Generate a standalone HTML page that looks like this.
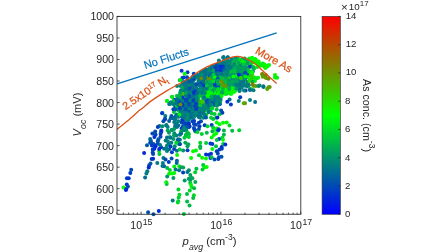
<!DOCTYPE html>
<html><head><meta charset="utf-8"><title>Voc vs p_avg</title><style>html,body{margin:0;padding:0;background:#fff;overflow:hidden}svg{display:block}</style></head><body>
<svg width="448" height="252" viewBox="0 0 448 252" font-family="Liberation Sans, Arial, sans-serif" font-size="10.6" fill="#262626">
<defs><linearGradient id="cb" x1="0" y1="1" x2="0" y2="0"><stop offset="0" stop-color="#0000ff"/><stop offset="0.5" stop-color="#00ff00"/><stop offset="1" stop-color="#ff0000"/></linearGradient>
</defs>
<rect width="448" height="252" fill="#ffffff"/>
<g>
<circle cx="214.2" cy="97.4" r="2.0" fill="#00738c"/>
<circle cx="215.0" cy="98.9" r="2.0" fill="#006e91"/>
<circle cx="213.4" cy="86.9" r="2.0" fill="#00c13e"/>
<circle cx="226.7" cy="93.1" r="2.0" fill="#04fb00"/>
<circle cx="183.1" cy="89.4" r="2.0" fill="#007d82"/>
<circle cx="243.6" cy="69.6" r="2.0" fill="#008679"/>
<circle cx="234.6" cy="63.7" r="2.0" fill="#00c13e"/>
<circle cx="203.6" cy="71.1" r="2.0" fill="#007887"/>
<circle cx="203.4" cy="117.7" r="2.0" fill="#008976"/>
<circle cx="239.7" cy="60.9" r="2.0" fill="#00b748"/>
<circle cx="242.1" cy="60.1" r="2.0" fill="#007887"/>
<circle cx="191.4" cy="79.8" r="2.0" fill="#00817e"/>
<circle cx="231.6" cy="61.6" r="2.0" fill="#008c73"/>
<circle cx="217.4" cy="64.6" r="2.0" fill="#00728d"/>
<circle cx="218.7" cy="75.6" r="2.0" fill="#00827d"/>
<circle cx="193.1" cy="91.8" r="2.0" fill="#003fc0"/>
<circle cx="223.8" cy="69.7" r="2.0" fill="#006f90"/>
<circle cx="184.4" cy="82.6" r="2.0" fill="#007689"/>
<circle cx="236.3" cy="76.3" r="2.0" fill="#00ad52"/>
<circle cx="213.7" cy="83.4" r="2.0" fill="#00a857"/>
<circle cx="188.5" cy="104.7" r="2.0" fill="#003ac5"/>
<circle cx="242.7" cy="66.1" r="2.0" fill="#008877"/>
<circle cx="237.5" cy="79.6" r="2.0" fill="#009c63"/>
<circle cx="243.3" cy="66.9" r="2.0" fill="#00c936"/>
<circle cx="213.7" cy="97.7" r="2.0" fill="#00718e"/>
<circle cx="199.8" cy="107.8" r="2.0" fill="#00817e"/>
<circle cx="194.8" cy="79.0" r="2.0" fill="#00857a"/>
<circle cx="242.6" cy="62.0" r="2.0" fill="#007e81"/>
<circle cx="195.3" cy="131.4" r="2.0" fill="#00ba45"/>
<circle cx="195.1" cy="106.9" r="2.0" fill="#008080"/>
<circle cx="239.8" cy="84.4" r="2.0" fill="#008a75"/>
<circle cx="198.9" cy="109.8" r="2.0" fill="#007f80"/>
<circle cx="215.1" cy="79.9" r="2.0" fill="#00a25d"/>
<circle cx="192.6" cy="77.6" r="2.0" fill="#008d72"/>
<circle cx="193.1" cy="104.4" r="2.0" fill="#0034cb"/>
<circle cx="222.6" cy="83.0" r="2.0" fill="#00bd42"/>
<circle cx="212.2" cy="103.1" r="2.0" fill="#0041be"/>
<circle cx="202.1" cy="76.5" r="2.0" fill="#007887"/>
<circle cx="181.2" cy="114.6" r="2.0" fill="#00718e"/>
<circle cx="216.6" cy="102.3" r="2.0" fill="#00758a"/>
<circle cx="233.8" cy="84.9" r="2.0" fill="#00827d"/>
<circle cx="235.2" cy="90.7" r="2.0" fill="#05fa00"/>
<circle cx="186.1" cy="101.6" r="2.0" fill="#0043bc"/>
<circle cx="225.4" cy="84.6" r="2.0" fill="#00ae51"/>
<circle cx="194.0" cy="92.0" r="2.0" fill="#002dd2"/>
<circle cx="214.4" cy="102.3" r="2.0" fill="#008d72"/>
<circle cx="239.6" cy="64.4" r="2.0" fill="#00748b"/>
<circle cx="230.3" cy="93.8" r="2.0" fill="#00f708"/>
<circle cx="211.0" cy="70.2" r="2.0" fill="#003dc2"/>
<circle cx="187.6" cy="81.3" r="2.0" fill="#007f80"/>
<circle cx="190.5" cy="103.3" r="2.0" fill="#0028d7"/>
<circle cx="189.5" cy="97.3" r="2.0" fill="#008976"/>
<circle cx="174.9" cy="105.6" r="2.0" fill="#008778"/>
<circle cx="203.3" cy="113.6" r="2.0" fill="#006e91"/>
<circle cx="219.6" cy="63.4" r="2.0" fill="#007a85"/>
<circle cx="225.4" cy="62.3" r="2.0" fill="#00827d"/>
<circle cx="211.5" cy="70.4" r="2.0" fill="#003ec1"/>
<circle cx="232.5" cy="76.7" r="2.0" fill="#009d62"/>
<circle cx="225.3" cy="84.8" r="2.0" fill="#00a758"/>
<circle cx="191.8" cy="104.1" r="2.0" fill="#004cb3"/>
<circle cx="225.1" cy="83.0" r="2.0" fill="#798600"/>
<circle cx="203.2" cy="92.9" r="2.0" fill="#007d82"/>
<circle cx="189.4" cy="82.9" r="2.0" fill="#002cd3"/>
<circle cx="231.5" cy="93.7" r="2.0" fill="#00fb04"/>
<circle cx="207.1" cy="95.1" r="2.0" fill="#00b847"/>
<circle cx="198.2" cy="99.2" r="2.0" fill="#00c53a"/>
<circle cx="205.6" cy="110.5" r="2.0" fill="#00d22d"/>
<circle cx="236.7" cy="61.1" r="2.0" fill="#00d42b"/>
<circle cx="206.5" cy="69.9" r="2.0" fill="#008e71"/>
<circle cx="220.0" cy="79.3" r="2.0" fill="#00d02f"/>
<circle cx="168.7" cy="143.9" r="2.0" fill="#006e91"/>
<circle cx="204.9" cy="84.8" r="2.0" fill="#004ab5"/>
<circle cx="215.7" cy="89.5" r="2.0" fill="#06f900"/>
<circle cx="228.7" cy="61.7" r="2.0" fill="#00857a"/>
<circle cx="189.4" cy="98.7" r="2.0" fill="#002bd4"/>
<circle cx="199.1" cy="95.4" r="2.0" fill="#00718e"/>
<circle cx="206.6" cy="94.4" r="2.0" fill="#00d52a"/>
<circle cx="194.9" cy="77.5" r="2.0" fill="#006f90"/>
<circle cx="220.0" cy="88.5" r="2.0" fill="#01fe00"/>
<circle cx="243.3" cy="68.8" r="2.0" fill="#00d42b"/>
<circle cx="195.1" cy="107.2" r="2.0" fill="#002cd3"/>
<circle cx="221.1" cy="92.3" r="2.0" fill="#00c738"/>
<circle cx="194.5" cy="76.3" r="2.0" fill="#00728d"/>
<circle cx="219.3" cy="84.4" r="2.0" fill="#00d926"/>
<circle cx="228.5" cy="83.6" r="2.0" fill="#5fa000"/>
<circle cx="216.4" cy="76.2" r="2.0" fill="#003ac5"/>
<circle cx="218.7" cy="98.9" r="2.0" fill="#008778"/>
<circle cx="185.6" cy="99.4" r="2.0" fill="#003dc2"/>
<circle cx="210.2" cy="69.6" r="2.0" fill="#00857a"/>
<circle cx="238.9" cy="78.9" r="2.0" fill="#00ae51"/>
<circle cx="174.3" cy="133.2" r="2.0" fill="#008c73"/>
<circle cx="242.9" cy="80.9" r="2.0" fill="#00817e"/>
<circle cx="209.4" cy="68.5" r="2.0" fill="#008e71"/>
<circle cx="225.3" cy="82.0" r="2.0" fill="#00ae51"/>
<circle cx="206.5" cy="71.9" r="2.0" fill="#0031ce"/>
<circle cx="203.9" cy="85.7" r="2.0" fill="#008976"/>
<circle cx="194.0" cy="84.2" r="2.0" fill="#00728d"/>
<circle cx="186.4" cy="128.3" r="2.0" fill="#007d82"/>
<circle cx="182.8" cy="112.4" r="2.0" fill="#007689"/>
<circle cx="199.2" cy="103.7" r="2.0" fill="#00c43b"/>
<circle cx="224.8" cy="61.3" r="2.0" fill="#007b84"/>
<circle cx="217.4" cy="88.3" r="2.0" fill="#00ba45"/>
<circle cx="188.7" cy="134.6" r="2.0" fill="#00cd32"/>
<circle cx="199.1" cy="78.7" r="2.0" fill="#008679"/>
<circle cx="185.1" cy="94.9" r="2.0" fill="#008c73"/>
<circle cx="232.8" cy="74.9" r="2.0" fill="#008976"/>
<circle cx="220.2" cy="70.8" r="2.0" fill="#0046b9"/>
<circle cx="227.2" cy="82.1" r="2.0" fill="#00a659"/>
<circle cx="181.5" cy="113.5" r="2.0" fill="#00807f"/>
<circle cx="191.9" cy="82.8" r="2.0" fill="#008e71"/>
<circle cx="204.7" cy="99.6" r="2.0" fill="#00d52a"/>
<circle cx="186.5" cy="81.5" r="2.0" fill="#0053ac"/>
<circle cx="191.2" cy="104.4" r="2.0" fill="#004db2"/>
<circle cx="155.2" cy="131.4" r="2.0" fill="#004bb4"/>
<circle cx="199.9" cy="117.4" r="2.0" fill="#00847b"/>
<circle cx="186.3" cy="108.0" r="2.0" fill="#0033cc"/>
<circle cx="228.1" cy="61.3" r="2.0" fill="#00758a"/>
<circle cx="215.3" cy="93.0" r="2.0" fill="#00c23d"/>
<circle cx="208.6" cy="74.5" r="2.0" fill="#00857a"/>
<circle cx="216.2" cy="104.6" r="2.0" fill="#007c83"/>
<circle cx="178.9" cy="116.8" r="2.0" fill="#008976"/>
<circle cx="192.8" cy="117.6" r="2.0" fill="#006f90"/>
<circle cx="187.5" cy="100.2" r="2.0" fill="#007689"/>
<circle cx="207.3" cy="78.2" r="2.0" fill="#659a00"/>
<circle cx="202.9" cy="111.0" r="2.0" fill="#003ec1"/>
<circle cx="202.1" cy="92.0" r="2.0" fill="#00728d"/>
<circle cx="181.6" cy="128.4" r="2.0" fill="#0031ce"/>
<circle cx="186.7" cy="118.8" r="2.0" fill="#0040bf"/>
<circle cx="221.9" cy="65.4" r="2.0" fill="#003ec1"/>
<circle cx="185.8" cy="103.6" r="2.0" fill="#007a85"/>
<circle cx="184.4" cy="111.5" r="2.0" fill="#0039c6"/>
<circle cx="195.5" cy="76.9" r="2.0" fill="#007a85"/>
<circle cx="161.3" cy="130.6" r="2.0" fill="#003bc4"/>
<circle cx="195.2" cy="107.7" r="2.0" fill="#008a75"/>
<circle cx="186.9" cy="83.2" r="2.0" fill="#00738c"/>
<circle cx="212.2" cy="92.2" r="2.0" fill="#00fb04"/>
<circle cx="220.4" cy="98.4" r="2.0" fill="#006e91"/>
<circle cx="198.3" cy="99.0" r="2.0" fill="#008c73"/>
<circle cx="205.1" cy="100.0" r="2.0" fill="#0050af"/>
<circle cx="190.3" cy="95.4" r="2.0" fill="#008b74"/>
<circle cx="188.5" cy="133.5" r="2.0" fill="#00c33c"/>
<circle cx="206.0" cy="87.5" r="2.0" fill="#008778"/>
<circle cx="244.6" cy="75.9" r="2.0" fill="#00d22d"/>
<circle cx="179.6" cy="143.4" r="2.0" fill="#00d32c"/>
<circle cx="191.8" cy="104.6" r="2.0" fill="#008e71"/>
<circle cx="187.8" cy="100.3" r="2.0" fill="#008d72"/>
<circle cx="189.9" cy="111.5" r="2.0" fill="#00857a"/>
<circle cx="212.2" cy="83.0" r="2.0" fill="#00718e"/>
<circle cx="211.5" cy="69.2" r="2.0" fill="#007887"/>
<circle cx="193.1" cy="113.9" r="2.0" fill="#00708f"/>
<circle cx="218.4" cy="68.0" r="2.0" fill="#008877"/>
<circle cx="222.2" cy="81.8" r="2.0" fill="#00d827"/>
<circle cx="214.0" cy="99.3" r="2.0" fill="#008976"/>
<circle cx="189.8" cy="102.5" r="2.0" fill="#007e81"/>
<circle cx="236.4" cy="84.1" r="2.0" fill="#00a758"/>
<circle cx="173.9" cy="111.9" r="2.0" fill="#00c936"/>
<circle cx="227.6" cy="70.7" r="2.0" fill="#007788"/>
<circle cx="217.2" cy="85.2" r="2.0" fill="#00cb34"/>
<circle cx="205.1" cy="75.6" r="2.0" fill="#002ed1"/>
<circle cx="150.7" cy="140.5" r="2.0" fill="#0047b8"/>
<circle cx="244.7" cy="62.2" r="2.0" fill="#007a85"/>
<circle cx="200.9" cy="112.4" r="2.0" fill="#007e81"/>
<circle cx="206.4" cy="73.5" r="2.0" fill="#0043bc"/>
<circle cx="231.7" cy="75.1" r="2.0" fill="#00d32c"/>
<circle cx="183.6" cy="129.8" r="2.0" fill="#002cd3"/>
<circle cx="212.9" cy="105.3" r="2.0" fill="#00827d"/>
<circle cx="230.8" cy="80.6" r="2.0" fill="#00718e"/>
<circle cx="189.1" cy="86.6" r="2.0" fill="#0044bb"/>
<circle cx="206.1" cy="79.1" r="2.0" fill="#00bb44"/>
<circle cx="218.4" cy="103.5" r="2.0" fill="#00c13e"/>
<circle cx="229.2" cy="84.5" r="2.0" fill="#007e81"/>
<circle cx="206.1" cy="69.6" r="2.0" fill="#00748b"/>
<circle cx="184.2" cy="88.0" r="2.0" fill="#00827d"/>
<circle cx="183.4" cy="83.7" r="2.0" fill="#007a85"/>
<circle cx="186.7" cy="81.9" r="2.0" fill="#0052ad"/>
<circle cx="241.0" cy="72.3" r="2.0" fill="#008877"/>
<circle cx="225.3" cy="61.8" r="2.0" fill="#008d72"/>
<circle cx="228.5" cy="67.2" r="2.0" fill="#007d82"/>
<circle cx="200.0" cy="101.4" r="2.0" fill="#629d00"/>
<circle cx="242.8" cy="58.9" r="2.0" fill="#007689"/>
<circle cx="226.4" cy="74.5" r="2.0" fill="#008b74"/>
<circle cx="202.0" cy="72.7" r="2.0" fill="#007986"/>
<circle cx="198.9" cy="80.5" r="2.0" fill="#008679"/>
<circle cx="197.3" cy="104.1" r="2.0" fill="#7d8200"/>
<circle cx="191.2" cy="87.9" r="2.0" fill="#003ac5"/>
<circle cx="207.6" cy="108.2" r="2.0" fill="#00cd32"/>
<circle cx="239.7" cy="60.8" r="2.0" fill="#007788"/>
<circle cx="187.1" cy="131.9" r="2.0" fill="#00cf30"/>
<circle cx="194.7" cy="94.5" r="2.0" fill="#0041be"/>
<circle cx="209.1" cy="82.3" r="2.0" fill="#00837c"/>
<circle cx="188.0" cy="97.4" r="2.0" fill="#007689"/>
<circle cx="199.5" cy="83.5" r="2.0" fill="#0045ba"/>
<circle cx="203.7" cy="82.3" r="2.0" fill="#0036c9"/>
<circle cx="182.9" cy="117.4" r="2.0" fill="#008a75"/>
<circle cx="225.1" cy="85.8" r="2.0" fill="#009a65"/>
<circle cx="242.5" cy="81.5" r="2.0" fill="#00956a"/>
<circle cx="243.2" cy="61.8" r="2.0" fill="#00c33c"/>
<circle cx="220.0" cy="70.6" r="2.0" fill="#004cb2"/>
<circle cx="185.4" cy="115.0" r="2.0" fill="#00718e"/>
<circle cx="189.4" cy="97.3" r="2.0" fill="#003dc2"/>
<circle cx="181.7" cy="97.3" r="2.0" fill="#0031ce"/>
<circle cx="210.5" cy="70.1" r="2.0" fill="#008080"/>
<circle cx="208.7" cy="110.6" r="2.0" fill="#00ba45"/>
<circle cx="191.4" cy="90.4" r="2.0" fill="#008e71"/>
<circle cx="192.4" cy="121.2" r="2.0" fill="#004bb4"/>
<circle cx="192.9" cy="88.1" r="2.0" fill="#003fc0"/>
<circle cx="241.7" cy="67.4" r="2.0" fill="#00cb34"/>
<circle cx="217.8" cy="97.5" r="2.0" fill="#00847b"/>
<circle cx="169.9" cy="137.0" r="2.0" fill="#00a956"/>
<circle cx="203.7" cy="86.0" r="2.0" fill="#002dd2"/>
<circle cx="214.6" cy="75.5" r="2.0" fill="#003ec1"/>
<circle cx="226.4" cy="62.8" r="2.0" fill="#008a75"/>
<circle cx="234.5" cy="91.6" r="2.0" fill="#05fa00"/>
<circle cx="187.5" cy="105.3" r="2.0" fill="#006e91"/>
<circle cx="205.8" cy="77.3" r="2.0" fill="#619e00"/>
<circle cx="214.0" cy="97.0" r="2.0" fill="#00718e"/>
<circle cx="187.0" cy="99.6" r="2.0" fill="#007788"/>
<circle cx="180.7" cy="102.3" r="2.0" fill="#006f90"/>
<circle cx="197.6" cy="89.8" r="2.0" fill="#00807f"/>
<circle cx="238.0" cy="71.2" r="2.0" fill="#00cb34"/>
<circle cx="244.7" cy="79.7" r="2.0" fill="#00a857"/>
<circle cx="229.2" cy="63.9" r="2.0" fill="#00ba45"/>
<circle cx="234.3" cy="78.3" r="2.0" fill="#008e71"/>
<circle cx="229.4" cy="76.1" r="2.0" fill="#00a05f"/>
<circle cx="213.4" cy="92.9" r="2.0" fill="#00cc33"/>
<circle cx="182.0" cy="107.2" r="2.0" fill="#0040bf"/>
<circle cx="234.5" cy="62.8" r="2.0" fill="#00b748"/>
<circle cx="201.5" cy="89.4" r="2.0" fill="#007986"/>
<circle cx="234.2" cy="76.5" r="2.0" fill="#00a659"/>
<circle cx="219.9" cy="97.5" r="2.0" fill="#007788"/>
<circle cx="208.3" cy="98.6" r="2.0" fill="#008a75"/>
<circle cx="194.7" cy="107.5" r="2.0" fill="#0045ba"/>
<circle cx="231.8" cy="64.8" r="2.0" fill="#008c73"/>
<circle cx="239.8" cy="75.3" r="2.0" fill="#00817e"/>
<circle cx="209.1" cy="82.0" r="2.0" fill="#00c43b"/>
<circle cx="200.1" cy="103.3" r="2.0" fill="#708f00"/>
<circle cx="187.0" cy="93.0" r="2.0" fill="#00857a"/>
<circle cx="193.9" cy="103.4" r="2.0" fill="#0031ce"/>
<circle cx="220.0" cy="102.9" r="2.0" fill="#00708f"/>
<circle cx="199.0" cy="94.2" r="2.0" fill="#00c23d"/>
<circle cx="202.0" cy="96.7" r="2.0" fill="#00c23d"/>
<circle cx="199.8" cy="75.1" r="2.0" fill="#007788"/>
<circle cx="188.2" cy="125.4" r="2.0" fill="#0039c6"/>
<circle cx="227.2" cy="76.0" r="2.0" fill="#00bf40"/>
<circle cx="187.5" cy="81.9" r="2.0" fill="#008877"/>
<circle cx="186.3" cy="89.2" r="2.0" fill="#008e71"/>
<circle cx="167.7" cy="130.4" r="2.0" fill="#00ae51"/>
<circle cx="197.1" cy="76.4" r="2.0" fill="#008d72"/>
<circle cx="186.5" cy="81.9" r="2.0" fill="#0031ce"/>
<circle cx="185.8" cy="135.1" r="2.0" fill="#00bd42"/>
<circle cx="186.7" cy="82.0" r="2.0" fill="#0037c8"/>
<circle cx="234.4" cy="63.0" r="2.0" fill="#00ca35"/>
<circle cx="192.8" cy="101.9" r="2.0" fill="#007887"/>
<circle cx="215.2" cy="73.2" r="2.0" fill="#0049b6"/>
<circle cx="244.4" cy="74.1" r="2.0" fill="#00d22d"/>
<circle cx="200.6" cy="102.7" r="2.0" fill="#619e00"/>
<circle cx="159.4" cy="126.1" r="2.0" fill="#007a85"/>
<circle cx="194.0" cy="116.9" r="2.0" fill="#00827d"/>
<circle cx="181.9" cy="93.5" r="2.0" fill="#00748b"/>
<circle cx="193.4" cy="77.5" r="2.0" fill="#00758a"/>
<circle cx="199.4" cy="91.3" r="2.0" fill="#008778"/>
<circle cx="235.0" cy="86.3" r="2.0" fill="#00718e"/>
<circle cx="180.1" cy="100.0" r="2.0" fill="#00827d"/>
<circle cx="212.5" cy="76.1" r="2.0" fill="#57a800"/>
<circle cx="178.0" cy="109.6" r="2.0" fill="#00b946"/>
<circle cx="206.0" cy="81.6" r="2.0" fill="#00ac53"/>
<circle cx="213.4" cy="80.4" r="2.0" fill="#00a55a"/>
<circle cx="195.9" cy="84.7" r="2.0" fill="#004ab5"/>
<circle cx="212.8" cy="94.9" r="2.0" fill="#007c83"/>
<circle cx="201.7" cy="81.4" r="2.0" fill="#7e8100"/>
<circle cx="225.8" cy="94.0" r="2.0" fill="#0af500"/>
<circle cx="206.6" cy="94.5" r="2.0" fill="#008a75"/>
<circle cx="202.8" cy="87.4" r="2.0" fill="#008a75"/>
<circle cx="187.8" cy="133.9" r="2.0" fill="#00d42b"/>
<circle cx="188.7" cy="119.6" r="2.0" fill="#00718e"/>
<circle cx="241.2" cy="71.5" r="2.0" fill="#00be41"/>
<circle cx="217.0" cy="72.0" r="2.0" fill="#00857a"/>
<circle cx="198.8" cy="94.3" r="2.0" fill="#00ca35"/>
<circle cx="227.6" cy="64.7" r="2.0" fill="#0054ab"/>
<circle cx="219.5" cy="101.8" r="2.0" fill="#00d926"/>
<circle cx="216.6" cy="82.4" r="2.0" fill="#004eb1"/>
<circle cx="198.0" cy="98.5" r="2.0" fill="#00c639"/>
<circle cx="221.0" cy="90.4" r="2.0" fill="#008a75"/>
<circle cx="190.3" cy="82.7" r="2.0" fill="#007b84"/>
<circle cx="188.7" cy="105.5" r="2.0" fill="#002cd3"/>
<circle cx="208.6" cy="106.7" r="2.0" fill="#007c83"/>
<circle cx="188.5" cy="81.9" r="2.0" fill="#002cd3"/>
<circle cx="184.7" cy="108.1" r="2.0" fill="#006e91"/>
<circle cx="211.7" cy="107.8" r="2.0" fill="#00d926"/>
<circle cx="201.0" cy="79.2" r="2.0" fill="#6b9400"/>
<circle cx="234.0" cy="73.4" r="2.0" fill="#00da25"/>
<circle cx="242.0" cy="69.1" r="2.0" fill="#00b946"/>
<circle cx="189.0" cy="109.6" r="2.0" fill="#00817e"/>
<circle cx="184.8" cy="86.9" r="2.0" fill="#008b74"/>
<circle cx="211.8" cy="89.1" r="2.0" fill="#007986"/>
<circle cx="235.5" cy="66.8" r="2.0" fill="#006e91"/>
<circle cx="236.3" cy="68.4" r="2.0" fill="#008a75"/>
<circle cx="211.3" cy="82.2" r="2.0" fill="#00af50"/>
<circle cx="203.8" cy="113.7" r="2.0" fill="#008976"/>
<circle cx="183.6" cy="129.5" r="2.0" fill="#003dc2"/>
<circle cx="219.7" cy="64.9" r="2.0" fill="#0039c6"/>
<circle cx="226.3" cy="73.5" r="2.0" fill="#00748b"/>
<circle cx="237.1" cy="71.3" r="2.0" fill="#00b748"/>
<circle cx="233.3" cy="64.7" r="2.0" fill="#00bf40"/>
<circle cx="193.3" cy="89.0" r="2.0" fill="#007e81"/>
<circle cx="218.9" cy="86.5" r="2.0" fill="#002fd0"/>
<circle cx="191.5" cy="83.2" r="2.0" fill="#0040bf"/>
<circle cx="230.4" cy="69.0" r="2.0" fill="#007b84"/>
<circle cx="239.7" cy="73.4" r="2.0" fill="#00c837"/>
<circle cx="192.0" cy="96.3" r="2.0" fill="#003dc2"/>
<circle cx="203.2" cy="84.7" r="2.0" fill="#008877"/>
<circle cx="181.6" cy="112.5" r="2.0" fill="#00837c"/>
<circle cx="212.7" cy="102.9" r="2.0" fill="#008679"/>
<circle cx="204.6" cy="108.7" r="2.0" fill="#0046b9"/>
<circle cx="190.4" cy="108.2" r="2.0" fill="#004fb0"/>
<circle cx="183.9" cy="107.5" r="2.0" fill="#002ed1"/>
<circle cx="185.7" cy="95.1" r="2.0" fill="#00708f"/>
<circle cx="183.8" cy="110.3" r="2.0" fill="#00827d"/>
<circle cx="200.0" cy="89.5" r="2.0" fill="#00847b"/>
<circle cx="184.7" cy="110.8" r="2.0" fill="#002fd0"/>
<circle cx="218.8" cy="68.4" r="2.0" fill="#003ec1"/>
<circle cx="212.2" cy="92.7" r="2.0" fill="#00748b"/>
<circle cx="197.1" cy="114.8" r="2.0" fill="#007c83"/>
<circle cx="198.4" cy="75.7" r="2.0" fill="#00807f"/>
<circle cx="227.8" cy="86.5" r="2.0" fill="#00b946"/>
<circle cx="217.9" cy="84.6" r="2.0" fill="#009e61"/>
<circle cx="228.0" cy="66.9" r="2.0" fill="#0033cc"/>
<circle cx="225.8" cy="66.8" r="2.0" fill="#002ad5"/>
<circle cx="196.7" cy="103.4" r="2.0" fill="#004db2"/>
<circle cx="202.2" cy="89.9" r="2.0" fill="#007b84"/>
<circle cx="228.8" cy="77.5" r="2.0" fill="#00be41"/>
<circle cx="233.5" cy="64.3" r="2.0" fill="#00c43b"/>
<circle cx="241.2" cy="59.9" r="2.0" fill="#00cc33"/>
<circle cx="236.6" cy="85.2" r="2.0" fill="#00ac53"/>
<circle cx="226.2" cy="83.1" r="2.0" fill="#5fa000"/>
<circle cx="174.2" cy="100.1" r="2.0" fill="#008679"/>
<circle cx="240.9" cy="68.6" r="2.0" fill="#00bb44"/>
<circle cx="181.7" cy="98.8" r="2.0" fill="#00758a"/>
<circle cx="185.8" cy="92.1" r="2.0" fill="#007986"/>
<circle cx="194.2" cy="77.5" r="2.0" fill="#00708f"/>
<circle cx="186.1" cy="81.7" r="2.0" fill="#003dc2"/>
<circle cx="200.8" cy="92.7" r="2.0" fill="#007689"/>
<circle cx="210.5" cy="91.2" r="2.0" fill="#00837c"/>
<circle cx="237.9" cy="85.8" r="2.0" fill="#007d82"/>
<circle cx="228.6" cy="81.1" r="2.0" fill="#00bb44"/>
<circle cx="227.0" cy="93.5" r="2.0" fill="#00d22d"/>
<circle cx="222.6" cy="84.5" r="2.0" fill="#00a55a"/>
<circle cx="184.9" cy="99.2" r="2.0" fill="#0044bb"/>
<circle cx="210.9" cy="86.9" r="2.0" fill="#009966"/>
<circle cx="187.7" cy="104.3" r="2.0" fill="#004cb3"/>
<circle cx="209.3" cy="87.1" r="2.0" fill="#007689"/>
<circle cx="206.3" cy="81.7" r="2.0" fill="#669900"/>
<circle cx="194.0" cy="111.6" r="2.0" fill="#00807f"/>
<circle cx="178.4" cy="106.5" r="2.0" fill="#008976"/>
<circle cx="165.3" cy="116.1" r="2.0" fill="#007e81"/>
<circle cx="208.6" cy="85.1" r="2.0" fill="#009c63"/>
<circle cx="204.8" cy="79.0" r="2.0" fill="#00708f"/>
<circle cx="191.2" cy="116.7" r="2.0" fill="#00718e"/>
<circle cx="221.9" cy="76.4" r="2.0" fill="#7d8200"/>
<circle cx="184.5" cy="89.3" r="2.0" fill="#007d82"/>
<circle cx="221.5" cy="77.7" r="2.0" fill="#009966"/>
<circle cx="176.6" cy="114.4" r="2.0" fill="#008b74"/>
<circle cx="221.1" cy="68.7" r="2.0" fill="#0031ce"/>
<circle cx="195.8" cy="96.2" r="2.0" fill="#008e71"/>
<circle cx="210.8" cy="98.6" r="2.0" fill="#00748b"/>
<circle cx="243.7" cy="68.8" r="2.0" fill="#007b84"/>
<circle cx="243.0" cy="84.5" r="2.0" fill="#007986"/>
<circle cx="203.2" cy="103.2" r="2.0" fill="#6a9500"/>
<circle cx="237.3" cy="75.3" r="2.0" fill="#008976"/>
<circle cx="244.5" cy="69.3" r="2.0" fill="#007a85"/>
<circle cx="210.7" cy="91.8" r="2.0" fill="#00718e"/>
<circle cx="234.1" cy="83.7" r="2.0" fill="#009966"/>
<circle cx="239.4" cy="62.6" r="2.0" fill="#007e81"/>
<circle cx="160.5" cy="136.7" r="2.0" fill="#0043bc"/>
<circle cx="154.8" cy="145.2" r="2.0" fill="#0038c7"/>
<circle cx="199.3" cy="85.1" r="2.0" fill="#00718e"/>
<circle cx="196.0" cy="124.7" r="2.0" fill="#004fb0"/>
<circle cx="178.4" cy="109.4" r="2.0" fill="#006e91"/>
<circle cx="193.7" cy="110.2" r="2.0" fill="#00847b"/>
<circle cx="205.2" cy="91.7" r="2.0" fill="#008877"/>
<circle cx="234.0" cy="79.7" r="2.0" fill="#00a25d"/>
<circle cx="205.9" cy="105.4" r="2.0" fill="#008877"/>
<circle cx="209.1" cy="78.8" r="2.0" fill="#758a00"/>
<circle cx="229.4" cy="86.6" r="2.0" fill="#008679"/>
<circle cx="242.0" cy="78.4" r="2.0" fill="#009669"/>
<circle cx="242.2" cy="75.2" r="2.0" fill="#00857a"/>
<circle cx="206.1" cy="95.1" r="2.0" fill="#00857a"/>
<circle cx="198.3" cy="84.2" r="2.0" fill="#00758a"/>
<circle cx="190.8" cy="116.5" r="2.0" fill="#00718e"/>
<circle cx="230.6" cy="82.7" r="2.0" fill="#00ad52"/>
<circle cx="216.7" cy="92.6" r="2.0" fill="#01fe00"/>
<circle cx="212.9" cy="85.5" r="2.0" fill="#007887"/>
<circle cx="216.7" cy="65.2" r="2.0" fill="#0052ad"/>
<circle cx="226.8" cy="79.9" r="2.0" fill="#009867"/>
<circle cx="243.0" cy="81.5" r="2.0" fill="#006e91"/>
<circle cx="234.7" cy="77.1" r="2.0" fill="#008b74"/>
<circle cx="185.0" cy="86.3" r="2.0" fill="#00738c"/>
<circle cx="199.4" cy="113.9" r="2.0" fill="#008c73"/>
<circle cx="207.3" cy="99.4" r="2.0" fill="#008976"/>
<circle cx="175.5" cy="107.8" r="2.0" fill="#0043bc"/>
<circle cx="212.1" cy="83.7" r="2.0" fill="#00a758"/>
<circle cx="202.1" cy="92.9" r="2.0" fill="#007d82"/>
<circle cx="186.3" cy="106.7" r="2.0" fill="#008877"/>
<circle cx="240.7" cy="63.9" r="2.0" fill="#00cd32"/>
<circle cx="206.9" cy="74.6" r="2.0" fill="#007b84"/>
<circle cx="240.9" cy="86.8" r="2.0" fill="#008d72"/>
<circle cx="200.6" cy="84.6" r="2.0" fill="#006d92"/>
<circle cx="215.3" cy="73.8" r="2.0" fill="#003cc3"/>
<circle cx="210.7" cy="111.9" r="2.0" fill="#00718e"/>
<circle cx="189.5" cy="113.1" r="2.0" fill="#007986"/>
<circle cx="234.5" cy="68.3" r="2.0" fill="#008e71"/>
<circle cx="183.2" cy="110.6" r="2.0" fill="#006e91"/>
<circle cx="230.6" cy="74.4" r="2.0" fill="#007b84"/>
<circle cx="212.9" cy="79.3" r="2.0" fill="#00da25"/>
<circle cx="175.0" cy="126.5" r="2.0" fill="#007986"/>
<circle cx="215.9" cy="71.9" r="2.0" fill="#0034cb"/>
<circle cx="212.6" cy="68.9" r="2.0" fill="#007689"/>
<circle cx="206.4" cy="114.5" r="2.0" fill="#00cb34"/>
<circle cx="242.8" cy="71.0" r="2.0" fill="#00bb44"/>
<circle cx="161.1" cy="147.3" r="2.0" fill="#0030cf"/>
<circle cx="195.6" cy="84.5" r="2.0" fill="#0030cf"/>
<circle cx="203.7" cy="105.0" r="2.0" fill="#5da200"/>
<circle cx="195.2" cy="96.6" r="2.0" fill="#004ab5"/>
<circle cx="210.3" cy="90.0" r="2.0" fill="#00f50a"/>
<circle cx="213.5" cy="100.1" r="2.0" fill="#00bb44"/>
<circle cx="181.4" cy="116.0" r="2.0" fill="#00758a"/>
<circle cx="196.5" cy="115.1" r="2.0" fill="#007e81"/>
<circle cx="237.3" cy="61.4" r="2.0" fill="#00d629"/>
<circle cx="167.0" cy="137.5" r="2.0" fill="#00708f"/>
<circle cx="219.4" cy="65.7" r="2.0" fill="#004bb4"/>
<circle cx="211.7" cy="90.2" r="2.0" fill="#008e71"/>
<circle cx="220.4" cy="63.0" r="2.0" fill="#00758a"/>
<circle cx="197.0" cy="110.1" r="2.0" fill="#008c73"/>
<circle cx="189.2" cy="110.2" r="2.0" fill="#0033cc"/>
<circle cx="203.1" cy="107.0" r="2.0" fill="#00817e"/>
<circle cx="194.2" cy="121.1" r="2.0" fill="#003cc3"/>
<circle cx="217.7" cy="66.7" r="2.0" fill="#00748b"/>
<circle cx="177.8" cy="140.2" r="2.0" fill="#0052ad"/>
<circle cx="240.1" cy="77.5" r="2.0" fill="#00aa55"/>
<circle cx="182.9" cy="83.7" r="2.0" fill="#007887"/>
<circle cx="196.7" cy="90.8" r="2.0" fill="#00728d"/>
<circle cx="229.3" cy="61.6" r="2.0" fill="#007986"/>
<circle cx="209.9" cy="98.2" r="2.0" fill="#00807f"/>
<circle cx="187.2" cy="119.4" r="2.0" fill="#002fd0"/>
<circle cx="187.0" cy="110.1" r="2.0" fill="#0040bf"/>
<circle cx="195.8" cy="99.4" r="2.0" fill="#0051ae"/>
<circle cx="207.0" cy="83.9" r="2.0" fill="#008b74"/>
<circle cx="213.9" cy="98.4" r="2.0" fill="#007e81"/>
<circle cx="187.2" cy="81.2" r="2.0" fill="#003ac5"/>
<circle cx="235.9" cy="76.0" r="2.0" fill="#00d926"/>
<circle cx="212.3" cy="81.6" r="2.0" fill="#00a45b"/>
<circle cx="215.3" cy="103.4" r="2.0" fill="#007887"/>
<circle cx="244.9" cy="85.4" r="2.0" fill="#00827d"/>
<circle cx="228.5" cy="88.3" r="2.0" fill="#00fc03"/>
<circle cx="194.7" cy="91.8" r="2.0" fill="#004db2"/>
<circle cx="223.7" cy="62.0" r="2.0" fill="#008d72"/>
<circle cx="235.9" cy="84.6" r="2.0" fill="#00a45b"/>
<circle cx="241.7" cy="67.9" r="2.0" fill="#006f90"/>
<circle cx="182.4" cy="112.9" r="2.0" fill="#008976"/>
<circle cx="232.4" cy="70.2" r="2.0" fill="#00d22d"/>
<circle cx="236.5" cy="66.5" r="2.0" fill="#00b748"/>
<circle cx="223.4" cy="67.5" r="2.0" fill="#0052ad"/>
<circle cx="216.6" cy="68.5" r="2.0" fill="#00857a"/>
<circle cx="232.1" cy="59.0" r="2.0" fill="#00807f"/>
<circle cx="230.4" cy="82.2" r="2.0" fill="#009867"/>
<circle cx="188.1" cy="80.4" r="2.0" fill="#007a85"/>
<circle cx="227.7" cy="61.9" r="2.0" fill="#007f80"/>
<circle cx="212.8" cy="73.9" r="2.0" fill="#003ec1"/>
<circle cx="202.3" cy="74.4" r="2.0" fill="#008e71"/>
<circle cx="193.6" cy="111.6" r="2.0" fill="#008976"/>
<circle cx="196.9" cy="114.9" r="2.0" fill="#007e81"/>
<circle cx="229.6" cy="66.0" r="2.0" fill="#006f90"/>
<circle cx="204.2" cy="92.7" r="2.0" fill="#007f80"/>
<circle cx="224.9" cy="76.4" r="2.0" fill="#798600"/>
<circle cx="216.3" cy="71.0" r="2.0" fill="#002ad5"/>
<circle cx="182.6" cy="113.3" r="2.0" fill="#008976"/>
<circle cx="229.1" cy="69.7" r="2.0" fill="#00d32c"/>
<circle cx="166.4" cy="147.9" r="2.0" fill="#008a75"/>
<circle cx="195.6" cy="99.8" r="2.0" fill="#004db2"/>
<circle cx="226.9" cy="62.1" r="2.0" fill="#00837c"/>
<circle cx="198.5" cy="111.7" r="2.0" fill="#0030cf"/>
<circle cx="186.7" cy="106.9" r="2.0" fill="#0039c6"/>
<circle cx="185.7" cy="105.6" r="2.0" fill="#002ed1"/>
<circle cx="182.1" cy="91.6" r="2.0" fill="#006d92"/>
<circle cx="199.1" cy="105.4" r="2.0" fill="#7c8300"/>
<circle cx="179.9" cy="139.8" r="2.0" fill="#00837c"/>
<circle cx="221.5" cy="72.7" r="2.0" fill="#006f90"/>
<circle cx="239.8" cy="81.7" r="2.0" fill="#00807f"/>
<circle cx="234.6" cy="65.3" r="2.0" fill="#00708f"/>
<circle cx="243.3" cy="68.8" r="2.0" fill="#00758a"/>
<circle cx="202.0" cy="80.4" r="2.0" fill="#5aa500"/>
<circle cx="220.7" cy="87.2" r="2.0" fill="#00ac53"/>
<circle cx="210.5" cy="93.9" r="2.0" fill="#01fe00"/>
<circle cx="195.2" cy="101.0" r="2.0" fill="#00817e"/>
<circle cx="226.8" cy="66.7" r="2.0" fill="#004bb4"/>
<circle cx="194.0" cy="103.8" r="2.0" fill="#007b84"/>
<circle cx="200.9" cy="92.8" r="2.0" fill="#007986"/>
<circle cx="242.1" cy="71.2" r="2.0" fill="#00748b"/>
<circle cx="244.0" cy="61.7" r="2.0" fill="#00c33c"/>
<circle cx="186.6" cy="81.3" r="2.0" fill="#0051ae"/>
<circle cx="243.6" cy="68.7" r="2.0" fill="#00d12e"/>
<circle cx="228.4" cy="79.9" r="2.0" fill="#00ae51"/>
<circle cx="212.5" cy="99.8" r="2.0" fill="#00718e"/>
<circle cx="228.2" cy="71.9" r="2.0" fill="#00847b"/>
<circle cx="199.8" cy="91.5" r="2.0" fill="#00748b"/>
<circle cx="188.5" cy="101.5" r="2.0" fill="#0045ba"/>
<circle cx="225.2" cy="61.8" r="2.0" fill="#00758a"/>
<circle cx="192.1" cy="84.4" r="2.0" fill="#007b84"/>
<circle cx="187.6" cy="81.1" r="2.0" fill="#003ac5"/>
<circle cx="191.3" cy="110.9" r="2.0" fill="#0034cb"/>
<circle cx="183.2" cy="120.5" r="2.0" fill="#0054ab"/>
<circle cx="217.7" cy="83.2" r="2.0" fill="#00aa55"/>
<circle cx="183.0" cy="121.4" r="2.0" fill="#004eb1"/>
<circle cx="218.7" cy="88.8" r="2.0" fill="#00708f"/>
<circle cx="225.9" cy="90.3" r="2.0" fill="#00d12e"/>
<circle cx="175.3" cy="119.5" r="2.0" fill="#007689"/>
<circle cx="210.0" cy="111.6" r="2.0" fill="#00837c"/>
<circle cx="224.4" cy="80.6" r="2.0" fill="#00ae51"/>
<circle cx="210.4" cy="68.3" r="2.0" fill="#008a75"/>
<circle cx="179.6" cy="110.9" r="2.0" fill="#0031ce"/>
<circle cx="191.6" cy="101.6" r="2.0" fill="#007788"/>
<circle cx="191.4" cy="97.5" r="2.0" fill="#007d82"/>
<circle cx="236.3" cy="86.5" r="2.0" fill="#00aa55"/>
<circle cx="216.5" cy="77.9" r="2.0" fill="#00a956"/>
<circle cx="228.8" cy="74.8" r="2.0" fill="#006e91"/>
<circle cx="231.6" cy="77.1" r="2.0" fill="#006e91"/>
<circle cx="191.7" cy="100.0" r="2.0" fill="#002cd3"/>
<circle cx="201.9" cy="107.3" r="2.0" fill="#007986"/>
<circle cx="166.3" cy="125.0" r="2.0" fill="#008679"/>
<circle cx="180.8" cy="110.6" r="2.0" fill="#00708f"/>
<circle cx="234.7" cy="78.2" r="2.0" fill="#00748b"/>
<circle cx="194.7" cy="102.8" r="2.0" fill="#0043bc"/>
<circle cx="178.7" cy="110.4" r="2.0" fill="#00c639"/>
<circle cx="177.4" cy="126.1" r="2.0" fill="#006d92"/>
<circle cx="191.8" cy="105.2" r="2.0" fill="#007887"/>
<circle cx="236.6" cy="75.5" r="2.0" fill="#006f90"/>
<circle cx="187.8" cy="86.0" r="2.0" fill="#008778"/>
<circle cx="204.7" cy="72.3" r="2.0" fill="#006d92"/>
<circle cx="240.2" cy="64.5" r="2.0" fill="#00ce31"/>
<circle cx="226.0" cy="86.2" r="2.0" fill="#00ab54"/>
<circle cx="224.1" cy="85.6" r="2.0" fill="#00d728"/>
<circle cx="234.7" cy="60.6" r="2.0" fill="#00827d"/>
<circle cx="219.9" cy="64.7" r="2.0" fill="#004eb1"/>
<circle cx="181.1" cy="100.7" r="2.0" fill="#006f90"/>
<circle cx="197.1" cy="104.5" r="2.0" fill="#659a00"/>
<circle cx="228.5" cy="75.8" r="2.0" fill="#00758a"/>
<circle cx="210.9" cy="71.0" r="2.0" fill="#0050af"/>
<circle cx="202.4" cy="107.2" r="2.0" fill="#007d82"/>
<circle cx="231.6" cy="75.9" r="2.0" fill="#00827d"/>
<circle cx="187.3" cy="94.9" r="2.0" fill="#007986"/>
<circle cx="217.5" cy="89.5" r="2.0" fill="#00bd42"/>
<circle cx="241.0" cy="59.6" r="2.0" fill="#00da25"/>
<circle cx="224.8" cy="93.4" r="2.0" fill="#00ed12"/>
<circle cx="238.5" cy="62.9" r="2.0" fill="#008976"/>
<circle cx="173.4" cy="103.3" r="2.0" fill="#0034cb"/>
<circle cx="217.3" cy="65.0" r="2.0" fill="#003fc0"/>
<circle cx="222.1" cy="74.2" r="2.0" fill="#00817e"/>
<circle cx="233.9" cy="70.7" r="2.0" fill="#007689"/>
<circle cx="217.2" cy="97.2" r="2.0" fill="#00758a"/>
<circle cx="206.5" cy="101.1" r="2.0" fill="#0037c8"/>
<circle cx="181.0" cy="131.4" r="2.0" fill="#00d728"/>
<circle cx="212.4" cy="67.3" r="2.0" fill="#00857a"/>
<circle cx="181.7" cy="107.1" r="2.0" fill="#0036c9"/>
<circle cx="216.6" cy="78.0" r="2.0" fill="#00a05f"/>
<circle cx="202.9" cy="74.5" r="2.0" fill="#00728d"/>
<circle cx="196.1" cy="96.8" r="2.0" fill="#008877"/>
<circle cx="213.6" cy="67.6" r="2.0" fill="#0029d6"/>
<circle cx="235.0" cy="60.0" r="2.0" fill="#008877"/>
<circle cx="202.1" cy="76.3" r="2.0" fill="#7b8400"/>
<circle cx="214.5" cy="66.0" r="2.0" fill="#00718e"/>
<circle cx="239.6" cy="77.9" r="2.0" fill="#00a956"/>
<circle cx="236.1" cy="80.4" r="2.0" fill="#00ad52"/>
<circle cx="215.3" cy="77.5" r="2.0" fill="#0053ac"/>
<circle cx="184.1" cy="88.2" r="2.0" fill="#008976"/>
<circle cx="194.1" cy="99.7" r="2.0" fill="#0030cf"/>
<circle cx="180.1" cy="100.6" r="2.0" fill="#008877"/>
<circle cx="229.2" cy="82.8" r="2.0" fill="#00a758"/>
<circle cx="239.0" cy="70.1" r="2.0" fill="#00857a"/>
<circle cx="181.1" cy="133.2" r="2.0" fill="#00b748"/>
<circle cx="173.2" cy="103.9" r="2.0" fill="#007e81"/>
<circle cx="216.2" cy="75.6" r="2.0" fill="#003ac5"/>
<circle cx="224.8" cy="61.9" r="2.0" fill="#008a75"/>
<circle cx="211.6" cy="79.1" r="2.0" fill="#00a758"/>
<circle cx="221.0" cy="62.8" r="2.0" fill="#00807f"/>
<circle cx="190.2" cy="85.2" r="2.0" fill="#007a85"/>
<circle cx="186.4" cy="134.7" r="2.0" fill="#00c43b"/>
<circle cx="188.7" cy="125.2" r="2.0" fill="#00817e"/>
<circle cx="185.7" cy="94.1" r="2.0" fill="#003cc3"/>
<circle cx="193.9" cy="127.9" r="2.0" fill="#0042bd"/>
<circle cx="231.5" cy="90.6" r="2.0" fill="#00f807"/>
<circle cx="209.2" cy="111.4" r="2.0" fill="#00ba45"/>
<circle cx="207.8" cy="70.8" r="2.0" fill="#00738c"/>
<circle cx="220.5" cy="71.6" r="2.0" fill="#008a75"/>
<circle cx="211.9" cy="67.3" r="2.0" fill="#00847b"/>
<circle cx="212.8" cy="72.2" r="2.0" fill="#0036c9"/>
<circle cx="203.3" cy="99.6" r="2.0" fill="#00d52a"/>
<circle cx="228.5" cy="89.5" r="2.0" fill="#00d02f"/>
<circle cx="195.8" cy="108.1" r="2.0" fill="#00738c"/>
<circle cx="186.3" cy="91.9" r="2.0" fill="#00847b"/>
<circle cx="217.9" cy="91.8" r="2.0" fill="#00847b"/>
<circle cx="243.5" cy="75.8" r="2.0" fill="#007d82"/>
<circle cx="208.7" cy="83.5" r="2.0" fill="#00748b"/>
<circle cx="201.0" cy="121.2" r="2.0" fill="#004fb0"/>
<circle cx="188.8" cy="92.3" r="2.0" fill="#00728d"/>
<circle cx="235.4" cy="59.1" r="2.0" fill="#00d629"/>
<circle cx="219.6" cy="99.6" r="2.0" fill="#00847b"/>
<circle cx="186.7" cy="81.6" r="2.0" fill="#007689"/>
<circle cx="238.7" cy="87.2" r="2.0" fill="#00807f"/>
<circle cx="237.5" cy="81.5" r="2.0" fill="#009a65"/>
<circle cx="206.2" cy="93.4" r="2.0" fill="#00ff00"/>
<circle cx="198.3" cy="96.9" r="2.0" fill="#00c738"/>
<circle cx="209.7" cy="73.5" r="2.0" fill="#008e71"/>
<circle cx="185.2" cy="94.1" r="2.0" fill="#00748b"/>
<circle cx="198.9" cy="94.7" r="2.0" fill="#00bb44"/>
<circle cx="218.2" cy="92.8" r="2.0" fill="#00bd42"/>
<circle cx="190.2" cy="98.5" r="2.0" fill="#00847b"/>
<circle cx="192.2" cy="88.1" r="2.0" fill="#0050af"/>
<circle cx="192.8" cy="113.0" r="2.0" fill="#007b84"/>
<circle cx="239.3" cy="84.6" r="2.0" fill="#007788"/>
<circle cx="221.1" cy="88.1" r="2.0" fill="#02fd00"/>
<circle cx="200.2" cy="116.1" r="2.0" fill="#007986"/>
<circle cx="202.2" cy="80.2" r="2.0" fill="#6d9200"/>
<circle cx="218.8" cy="65.9" r="2.0" fill="#007887"/>
<circle cx="194.1" cy="90.7" r="2.0" fill="#0033cc"/>
<circle cx="187.3" cy="81.8" r="2.0" fill="#00708f"/>
<circle cx="181.5" cy="96.4" r="2.0" fill="#008c73"/>
<circle cx="237.3" cy="59.0" r="2.0" fill="#00857a"/>
<circle cx="238.3" cy="86.9" r="2.0" fill="#007e81"/>
<circle cx="186.0" cy="81.7" r="2.0" fill="#002ad5"/>
<circle cx="211.8" cy="77.7" r="2.0" fill="#00aa55"/>
<circle cx="228.2" cy="74.5" r="2.0" fill="#008a75"/>
<circle cx="187.5" cy="121.6" r="2.0" fill="#00807f"/>
<circle cx="184.4" cy="118.5" r="2.0" fill="#008778"/>
<circle cx="207.1" cy="85.0" r="2.0" fill="#007a85"/>
<circle cx="213.3" cy="88.1" r="2.0" fill="#00827d"/>
<circle cx="232.8" cy="75.9" r="2.0" fill="#00d32c"/>
<circle cx="224.8" cy="68.6" r="2.0" fill="#0041be"/>
<circle cx="187.4" cy="135.0" r="2.0" fill="#00d02f"/>
<circle cx="209.1" cy="100.2" r="2.0" fill="#002fd0"/>
<circle cx="233.6" cy="65.4" r="2.0" fill="#008877"/>
<circle cx="194.6" cy="93.4" r="2.0" fill="#008778"/>
<circle cx="201.2" cy="79.0" r="2.0" fill="#008877"/>
<circle cx="187.4" cy="92.4" r="2.0" fill="#007689"/>
<circle cx="244.2" cy="66.6" r="2.0" fill="#00b649"/>
<circle cx="225.1" cy="70.7" r="2.0" fill="#00758a"/>
<circle cx="224.7" cy="74.6" r="2.0" fill="#007689"/>
<circle cx="185.6" cy="107.8" r="2.0" fill="#007e81"/>
<circle cx="213.2" cy="83.1" r="2.0" fill="#002bd4"/>
<circle cx="170.7" cy="118.2" r="2.0" fill="#006699"/>
<circle cx="226.2" cy="82.7" r="2.0" fill="#00ad52"/>
<circle cx="212.3" cy="97.1" r="2.0" fill="#00c33c"/>
<circle cx="208.2" cy="100.6" r="2.0" fill="#0045ba"/>
<circle cx="206.1" cy="91.0" r="2.0" fill="#00fb04"/>
<circle cx="186.8" cy="112.8" r="2.0" fill="#007986"/>
<circle cx="213.2" cy="82.0" r="2.0" fill="#00c13e"/>
<circle cx="173.4" cy="109.3" r="2.0" fill="#003cc3"/>
<circle cx="213.8" cy="105.4" r="2.0" fill="#007986"/>
<circle cx="211.7" cy="97.2" r="2.0" fill="#007986"/>
<circle cx="192.1" cy="90.9" r="2.0" fill="#006e91"/>
<circle cx="184.3" cy="129.7" r="2.0" fill="#0046b9"/>
<circle cx="238.1" cy="79.0" r="2.0" fill="#008877"/>
<circle cx="225.1" cy="61.5" r="2.0" fill="#008976"/>
<circle cx="207.5" cy="105.9" r="2.0" fill="#007e81"/>
<circle cx="188.1" cy="89.4" r="2.0" fill="#007689"/>
<circle cx="230.6" cy="70.1" r="2.0" fill="#00cb34"/>
<circle cx="231.3" cy="88.0" r="2.0" fill="#00f40b"/>
<circle cx="182.1" cy="101.8" r="2.0" fill="#0041be"/>
<circle cx="230.6" cy="74.5" r="2.0" fill="#00d12e"/>
<circle cx="206.6" cy="84.4" r="2.0" fill="#00847b"/>
<circle cx="183.6" cy="88.9" r="2.0" fill="#00837c"/>
<circle cx="210.8" cy="83.3" r="2.0" fill="#00817e"/>
<circle cx="213.8" cy="99.2" r="2.0" fill="#006f90"/>
<circle cx="216.3" cy="68.0" r="2.0" fill="#00857a"/>
<circle cx="209.6" cy="107.7" r="2.0" fill="#00b847"/>
<circle cx="205.7" cy="84.7" r="2.0" fill="#009669"/>
<circle cx="241.6" cy="74.3" r="2.0" fill="#00bc43"/>
<circle cx="214.6" cy="76.1" r="2.0" fill="#009f60"/>
<circle cx="241.3" cy="78.7" r="2.0" fill="#009e61"/>
<circle cx="212.2" cy="107.8" r="2.0" fill="#00d02f"/>
<circle cx="189.3" cy="86.4" r="2.0" fill="#008877"/>
<circle cx="202.3" cy="73.8" r="2.0" fill="#008c73"/>
<circle cx="205.9" cy="88.7" r="2.0" fill="#00758a"/>
<circle cx="202.0" cy="79.8" r="2.0" fill="#5ea100"/>
<circle cx="214.1" cy="74.4" r="2.0" fill="#0045ba"/>
<circle cx="191.1" cy="117.5" r="2.0" fill="#008778"/>
<circle cx="211.7" cy="99.2" r="2.0" fill="#00b946"/>
<circle cx="196.1" cy="84.8" r="2.0" fill="#00728d"/>
<circle cx="222.5" cy="77.6" r="2.0" fill="#54ab00"/>
<circle cx="198.3" cy="110.7" r="2.0" fill="#007f80"/>
<circle cx="227.3" cy="71.3" r="2.0" fill="#00758a"/>
<circle cx="182.1" cy="99.3" r="2.0" fill="#007689"/>
<circle cx="202.6" cy="72.7" r="2.0" fill="#00718e"/>
<circle cx="217.4" cy="77.5" r="2.0" fill="#00c33c"/>
<circle cx="240.9" cy="64.1" r="2.0" fill="#008a75"/>
<circle cx="220.9" cy="93.2" r="2.0" fill="#00d926"/>
<circle cx="203.0" cy="78.8" r="2.0" fill="#008976"/>
<circle cx="223.9" cy="64.7" r="2.0" fill="#008877"/>
<circle cx="209.7" cy="75.8" r="2.0" fill="#0052ad"/>
<circle cx="206.6" cy="103.0" r="2.0" fill="#008a75"/>
<circle cx="183.0" cy="126.3" r="2.0" fill="#0044bb"/>
<circle cx="235.2" cy="58.8" r="2.0" fill="#007a85"/>
<circle cx="204.3" cy="77.7" r="2.0" fill="#00827d"/>
<circle cx="199.4" cy="90.3" r="2.0" fill="#008976"/>
<circle cx="233.9" cy="68.2" r="2.0" fill="#00c33c"/>
<circle cx="226.2" cy="81.3" r="2.0" fill="#00a35c"/>
<circle cx="209.0" cy="103.9" r="2.0" fill="#004fb0"/>
<circle cx="243.1" cy="78.3" r="2.0" fill="#00aa55"/>
<circle cx="198.7" cy="117.0" r="2.0" fill="#007788"/>
<circle cx="223.7" cy="66.7" r="2.0" fill="#0037c8"/>
<circle cx="227.6" cy="92.6" r="2.0" fill="#00cb34"/>
<circle cx="199.4" cy="103.2" r="2.0" fill="#00c639"/>
<circle cx="208.9" cy="108.6" r="2.0" fill="#00d32c"/>
<circle cx="203.9" cy="99.3" r="2.0" fill="#008778"/>
<circle cx="184.4" cy="102.4" r="2.0" fill="#0044bb"/>
<circle cx="217.7" cy="101.0" r="2.0" fill="#008b74"/>
<circle cx="224.8" cy="90.5" r="2.0" fill="#00b946"/>
<circle cx="200.4" cy="105.5" r="2.0" fill="#00b748"/>
<circle cx="232.4" cy="82.1" r="2.0" fill="#008c73"/>
<circle cx="171.7" cy="130.0" r="2.0" fill="#007689"/>
<circle cx="203.0" cy="71.5" r="2.0" fill="#00708f"/>
<circle cx="182.9" cy="93.1" r="2.0" fill="#008976"/>
<circle cx="214.7" cy="81.4" r="2.0" fill="#00a45b"/>
<circle cx="188.0" cy="108.0" r="2.0" fill="#0052ad"/>
<circle cx="194.4" cy="105.6" r="2.0" fill="#0037c8"/>
<circle cx="205.3" cy="96.5" r="2.0" fill="#00cb34"/>
<circle cx="227.7" cy="64.5" r="2.0" fill="#0038c7"/>
<circle cx="213.7" cy="77.4" r="2.0" fill="#00aa55"/>
<circle cx="200.8" cy="72.5" r="2.0" fill="#007c83"/>
<circle cx="240.5" cy="76.3" r="2.0" fill="#009a65"/>
<circle cx="228.2" cy="78.3" r="2.0" fill="#679800"/>
<circle cx="179.8" cy="106.6" r="2.0" fill="#0034cb"/>
<circle cx="207.3" cy="108.2" r="2.0" fill="#00b847"/>
<circle cx="218.0" cy="101.5" r="2.0" fill="#00728d"/>
<circle cx="174.3" cy="103.1" r="2.0" fill="#007e81"/>
<circle cx="207.6" cy="72.6" r="2.0" fill="#00847b"/>
<circle cx="190.8" cy="94.2" r="2.0" fill="#0051ae"/>
<circle cx="199.0" cy="106.4" r="2.0" fill="#0037c8"/>
<circle cx="176.4" cy="123.3" r="2.0" fill="#00827d"/>
<circle cx="189.3" cy="106.2" r="2.0" fill="#007b84"/>
<circle cx="185.8" cy="85.1" r="2.0" fill="#008679"/>
<circle cx="227.9" cy="89.3" r="2.0" fill="#00bb44"/>
<circle cx="223.5" cy="83.8" r="2.0" fill="#7f8000"/>
<circle cx="202.1" cy="76.5" r="2.0" fill="#00728d"/>
<circle cx="209.2" cy="104.9" r="2.0" fill="#003ec1"/>
<circle cx="183.6" cy="89.1" r="2.0" fill="#00738c"/>
<circle cx="230.6" cy="66.4" r="2.0" fill="#008e71"/>
<circle cx="209.2" cy="85.8" r="2.0" fill="#008d72"/>
<circle cx="201.9" cy="85.8" r="2.0" fill="#008b74"/>
<circle cx="239.4" cy="84.6" r="2.0" fill="#007a85"/>
<circle cx="189.7" cy="110.2" r="2.0" fill="#0054ab"/>
<circle cx="223.3" cy="91.3" r="2.0" fill="#00c738"/>
<circle cx="206.9" cy="81.4" r="2.0" fill="#659a00"/>
<circle cx="210.4" cy="89.1" r="2.0" fill="#00827d"/>
<circle cx="231.5" cy="76.1" r="2.0" fill="#008a75"/>
<circle cx="204.6" cy="115.0" r="2.0" fill="#00827d"/>
<circle cx="213.3" cy="66.3" r="2.0" fill="#00758a"/>
<circle cx="188.8" cy="127.3" r="2.0" fill="#0052ad"/>
<circle cx="218.3" cy="92.7" r="2.0" fill="#00817e"/>
<circle cx="233.6" cy="72.6" r="2.0" fill="#00bd42"/>
<circle cx="202.7" cy="110.0" r="2.0" fill="#00857a"/>
<circle cx="228.3" cy="90.7" r="2.0" fill="#00cf30"/>
<circle cx="210.6" cy="97.4" r="2.0" fill="#007986"/>
<circle cx="220.0" cy="90.5" r="2.0" fill="#08f700"/>
<circle cx="220.4" cy="70.4" r="2.0" fill="#008976"/>
<circle cx="211.7" cy="73.0" r="2.0" fill="#008778"/>
<circle cx="222.4" cy="74.9" r="2.0" fill="#007b84"/>
<circle cx="226.8" cy="74.7" r="2.0" fill="#00728d"/>
<circle cx="182.3" cy="99.5" r="2.0" fill="#007788"/>
<circle cx="212.9" cy="103.8" r="2.0" fill="#0046b9"/>
<circle cx="237.8" cy="84.8" r="2.0" fill="#007f80"/>
<circle cx="214.1" cy="81.2" r="2.0" fill="#009669"/>
<circle cx="201.8" cy="85.3" r="2.0" fill="#0044bb"/>
<circle cx="181.6" cy="122.5" r="2.0" fill="#004eb1"/>
<circle cx="189.8" cy="91.4" r="2.0" fill="#00857a"/>
<circle cx="199.8" cy="74.9" r="2.0" fill="#007788"/>
<circle cx="194.5" cy="112.2" r="2.0" fill="#008778"/>
<circle cx="223.4" cy="87.6" r="2.0" fill="#57a800"/>
<circle cx="213.4" cy="84.9" r="2.0" fill="#00a659"/>
<circle cx="217.6" cy="85.6" r="2.0" fill="#00a857"/>
<circle cx="223.2" cy="65.8" r="2.0" fill="#0031ce"/>
<circle cx="202.4" cy="103.2" r="2.0" fill="#00c53a"/>
<circle cx="215.2" cy="72.2" r="2.0" fill="#003fc0"/>
<circle cx="232.2" cy="73.1" r="2.0" fill="#00bf40"/>
<circle cx="235.3" cy="64.9" r="2.0" fill="#00728d"/>
<circle cx="231.5" cy="83.3" r="2.0" fill="#00a45b"/>
<circle cx="209.3" cy="93.2" r="2.0" fill="#00f20d"/>
<circle cx="189.3" cy="107.9" r="2.0" fill="#0049b6"/>
<circle cx="235.3" cy="85.9" r="2.0" fill="#007887"/>
<circle cx="193.2" cy="80.5" r="2.0" fill="#008679"/>
<circle cx="176.3" cy="135.5" r="2.0" fill="#00827d"/>
<circle cx="194.3" cy="112.8" r="2.0" fill="#00728d"/>
<circle cx="199.9" cy="76.6" r="2.0" fill="#008080"/>
<circle cx="215.3" cy="81.6" r="2.0" fill="#00d926"/>
<circle cx="230.6" cy="74.2" r="2.0" fill="#008778"/>
<circle cx="234.2" cy="91.8" r="2.0" fill="#00fb04"/>
<circle cx="208.7" cy="111.9" r="2.0" fill="#00708f"/>
<circle cx="186.6" cy="135.8" r="2.0" fill="#00c43b"/>
<circle cx="183.4" cy="103.9" r="2.0" fill="#006f90"/>
<circle cx="182.1" cy="119.9" r="2.0" fill="#002fd0"/>
<circle cx="185.0" cy="126.2" r="2.0" fill="#00827d"/>
<circle cx="178.9" cy="100.2" r="2.0" fill="#008b74"/>
<circle cx="186.9" cy="89.0" r="2.0" fill="#00847b"/>
<circle cx="212.2" cy="103.5" r="2.0" fill="#002fd0"/>
<circle cx="234.0" cy="64.7" r="2.0" fill="#00708f"/>
<circle cx="244.2" cy="76.2" r="2.0" fill="#009c63"/>
<circle cx="234.9" cy="82.4" r="2.0" fill="#00748b"/>
<circle cx="239.3" cy="62.8" r="2.0" fill="#00cf30"/>
<circle cx="215.0" cy="87.4" r="2.0" fill="#002bd4"/>
<circle cx="187.4" cy="82.0" r="2.0" fill="#006e91"/>
<circle cx="189.5" cy="82.6" r="2.0" fill="#0045ba"/>
<circle cx="191.8" cy="103.9" r="2.0" fill="#004cb2"/>
<circle cx="234.4" cy="59.5" r="2.0" fill="#00847b"/>
<circle cx="190.1" cy="116.8" r="2.0" fill="#00718e"/>
<circle cx="199.5" cy="75.3" r="2.0" fill="#008976"/>
<circle cx="235.4" cy="80.4" r="2.0" fill="#009a65"/>
<circle cx="225.6" cy="66.5" r="2.0" fill="#003ac5"/>
<circle cx="241.7" cy="87.7" r="2.0" fill="#00807f"/>
<circle cx="184.5" cy="122.9" r="2.0" fill="#004fb0"/>
<circle cx="208.3" cy="100.7" r="2.0" fill="#003fc0"/>
<circle cx="182.3" cy="116.0" r="2.0" fill="#008b74"/>
<circle cx="201.1" cy="104.1" r="2.0" fill="#689700"/>
<circle cx="223.2" cy="70.4" r="2.0" fill="#00817e"/>
<circle cx="157.8" cy="143.8" r="2.0" fill="#0047b8"/>
<circle cx="213.4" cy="86.9" r="2.0" fill="#00cc33"/>
<circle cx="202.0" cy="86.9" r="2.0" fill="#00827d"/>
<circle cx="211.8" cy="67.4" r="2.0" fill="#00718e"/>
<circle cx="218.4" cy="76.7" r="2.0" fill="#002fd0"/>
<circle cx="236.8" cy="77.9" r="2.0" fill="#009b64"/>
<circle cx="214.9" cy="101.7" r="2.0" fill="#007689"/>
<circle cx="188.4" cy="117.6" r="2.0" fill="#007986"/>
<circle cx="219.0" cy="77.3" r="2.0" fill="#009e61"/>
<circle cx="178.4" cy="143.7" r="2.0" fill="#00d52a"/>
<circle cx="218.2" cy="90.2" r="2.0" fill="#05fa00"/>
<circle cx="243.0" cy="82.3" r="2.0" fill="#007d82"/>
<circle cx="194.3" cy="78.3" r="2.0" fill="#00817e"/>
<circle cx="221.5" cy="73.8" r="2.0" fill="#00817e"/>
<circle cx="205.8" cy="90.9" r="2.0" fill="#00ee11"/>
<circle cx="209.1" cy="97.1" r="2.0" fill="#00b649"/>
<circle cx="185.2" cy="102.6" r="2.0" fill="#007788"/>
<circle cx="213.1" cy="73.2" r="2.0" fill="#0037c8"/>
<circle cx="198.5" cy="83.3" r="2.0" fill="#0051ae"/>
<circle cx="174.6" cy="100.0" r="2.0" fill="#002ad5"/>
<circle cx="210.8" cy="78.5" r="2.0" fill="#629d00"/>
<circle cx="182.3" cy="116.6" r="2.0" fill="#00758a"/>
<circle cx="236.0" cy="61.4" r="2.0" fill="#00bc43"/>
<circle cx="216.5" cy="66.5" r="2.0" fill="#0051ae"/>
<circle cx="214.3" cy="82.1" r="2.0" fill="#0047b8"/>
<circle cx="189.4" cy="86.5" r="2.0" fill="#003ac5"/>
<circle cx="182.8" cy="108.7" r="2.0" fill="#0051ae"/>
<circle cx="192.2" cy="111.5" r="2.0" fill="#008c73"/>
<circle cx="187.8" cy="98.8" r="2.0" fill="#0037c8"/>
<circle cx="222.3" cy="93.2" r="2.0" fill="#00cc33"/>
<circle cx="231.4" cy="70.3" r="2.0" fill="#00847b"/>
<circle cx="150.1" cy="142.7" r="2.0" fill="#0044bb"/>
<circle cx="188.8" cy="85.5" r="2.0" fill="#007a85"/>
<circle cx="192.3" cy="93.7" r="2.0" fill="#008e71"/>
<circle cx="220.7" cy="73.8" r="2.0" fill="#008778"/>
<circle cx="211.7" cy="76.0" r="2.0" fill="#00d52a"/>
<circle cx="226.3" cy="64.5" r="2.0" fill="#004db2"/>
<circle cx="220.4" cy="76.8" r="2.0" fill="#00a05f"/>
<circle cx="236.4" cy="77.4" r="2.0" fill="#00a758"/>
<circle cx="193.9" cy="91.8" r="2.0" fill="#0034cb"/>
<circle cx="200.2" cy="82.4" r="2.0" fill="#003bc4"/>
<circle cx="190.5" cy="91.1" r="2.0" fill="#00857a"/>
<circle cx="226.0" cy="79.2" r="2.0" fill="#00a758"/>
<circle cx="212.0" cy="76.5" r="2.0" fill="#758a00"/>
<circle cx="233.5" cy="89.8" r="2.0" fill="#00ff00"/>
<circle cx="194.3" cy="93.2" r="2.0" fill="#004ab5"/>
<circle cx="217.0" cy="105.7" r="2.0" fill="#00847b"/>
<circle cx="240.8" cy="75.3" r="2.0" fill="#00718e"/>
<circle cx="184.5" cy="103.0" r="2.0" fill="#00758a"/>
<circle cx="207.6" cy="92.2" r="2.0" fill="#00837c"/>
<circle cx="221.0" cy="92.1" r="2.0" fill="#00da25"/>
<circle cx="187.4" cy="95.7" r="2.0" fill="#003ac5"/>
<circle cx="197.7" cy="109.8" r="2.0" fill="#00728d"/>
<circle cx="225.0" cy="79.8" r="2.0" fill="#00b946"/>
<circle cx="234.8" cy="88.1" r="2.0" fill="#00fe01"/>
<circle cx="209.2" cy="104.9" r="2.0" fill="#008877"/>
<circle cx="200.9" cy="86.8" r="2.0" fill="#007788"/>
<circle cx="226.8" cy="84.9" r="2.0" fill="#00956a"/>
<circle cx="233.4" cy="76.2" r="2.0" fill="#00847b"/>
<circle cx="148.1" cy="212.3" r="2.0" fill="#0053ac"/>
<circle cx="158.8" cy="211.1" r="2.0" fill="#002cd3"/>
<circle cx="153.5" cy="214.2" r="2.0" fill="#0052ad"/>
<circle cx="172.7" cy="200.4" r="2.0" fill="#007887"/>
<circle cx="178.4" cy="189.6" r="2.0" fill="#00d22d"/>
<circle cx="179.4" cy="194.7" r="2.0" fill="#00d926"/>
<circle cx="178.7" cy="197.5" r="2.0" fill="#00d32c"/>
<circle cx="178.2" cy="201.2" r="2.0" fill="#00c837"/>
<circle cx="177.8" cy="202.5" r="2.0" fill="#00d926"/>
<circle cx="166.7" cy="183.9" r="2.0" fill="#00bd42"/>
<circle cx="131.2" cy="169.8" r="2.0" fill="#0047b8"/>
<circle cx="130.3" cy="173.0" r="2.0" fill="#003ac5"/>
<circle cx="126.9" cy="178.2" r="2.0" fill="#003fc0"/>
<circle cx="128.7" cy="178.3" r="2.0" fill="#0032cd"/>
<circle cx="144.1" cy="153.0" r="2.0" fill="#002cd3"/>
<circle cx="152.7" cy="149.4" r="2.0" fill="#0045ba"/>
<circle cx="154.4" cy="148.8" r="2.0" fill="#002cd3"/>
<circle cx="152.7" cy="152.4" r="2.0" fill="#0046b9"/>
<circle cx="153.1" cy="154.0" r="2.0" fill="#0047b8"/>
<circle cx="151.7" cy="159.1" r="2.0" fill="#0041be"/>
<circle cx="153.1" cy="158.8" r="2.0" fill="#0032cd"/>
<circle cx="150.5" cy="163.4" r="2.0" fill="#005fa0"/>
<circle cx="149.2" cy="165.2" r="2.0" fill="#0046b9"/>
<circle cx="148.7" cy="167.4" r="2.0" fill="#0029d6"/>
<circle cx="147.3" cy="171.3" r="2.0" fill="#007b84"/>
<circle cx="146.4" cy="173.5" r="2.0" fill="#007e81"/>
<circle cx="145.1" cy="177.6" r="2.0" fill="#006e91"/>
<circle cx="157.3" cy="162.9" r="2.0" fill="#007b84"/>
<circle cx="159.4" cy="154.0" r="2.0" fill="#00c43b"/>
<circle cx="159.1" cy="151.1" r="2.0" fill="#00d827"/>
<circle cx="163.4" cy="158.0" r="2.0" fill="#00738c"/>
<circle cx="165.5" cy="159.6" r="2.0" fill="#004bb4"/>
<circle cx="162.9" cy="163.0" r="2.0" fill="#00807f"/>
<circle cx="164.1" cy="166.3" r="2.0" fill="#005ca3"/>
<circle cx="162.5" cy="165.9" r="2.0" fill="#00758a"/>
<circle cx="167.2" cy="168.1" r="2.0" fill="#00b748"/>
<circle cx="169.9" cy="170.1" r="2.0" fill="#00d22d"/>
<circle cx="168.8" cy="162.0" r="2.0" fill="#003bc4"/>
<circle cx="171.6" cy="158.6" r="2.0" fill="#0053ac"/>
<circle cx="177.1" cy="155.1" r="2.0" fill="#0bf400"/>
<circle cx="176.9" cy="160.8" r="2.0" fill="#006897"/>
<circle cx="176.7" cy="163.0" r="2.0" fill="#00649b"/>
<circle cx="174.2" cy="166.5" r="2.0" fill="#00ef10"/>
<circle cx="179.2" cy="166.2" r="2.0" fill="#04fb00"/>
<circle cx="175.6" cy="169.5" r="2.0" fill="#00738c"/>
<circle cx="179.1" cy="170.2" r="2.0" fill="#00718e"/>
<circle cx="169.1" cy="173.8" r="2.0" fill="#00fe01"/>
<circle cx="172.0" cy="173.5" r="2.0" fill="#03fc00"/>
<circle cx="174.2" cy="173.1" r="2.0" fill="#05fa00"/>
<circle cx="167.2" cy="176.5" r="2.0" fill="#009669"/>
<circle cx="173.4" cy="178.0" r="2.0" fill="#009a65"/>
<circle cx="166.3" cy="182.2" r="2.0" fill="#00f30c"/>
<circle cx="164.1" cy="148.7" r="2.0" fill="#00758a"/>
<circle cx="167.0" cy="150.9" r="2.0" fill="#00837c"/>
<circle cx="171.9" cy="152.3" r="2.0" fill="#003fc0"/>
<circle cx="174.1" cy="149.1" r="2.0" fill="#0033cc"/>
<circle cx="159.2" cy="149.1" r="2.0" fill="#002ad5"/>
<circle cx="169.1" cy="149.2" r="2.0" fill="#006f90"/>
<circle cx="176.9" cy="150.8" r="2.0" fill="#00738c"/>
<circle cx="179.8" cy="149.5" r="2.0" fill="#00c43b"/>
<circle cx="183.2" cy="150.5" r="2.0" fill="#009867"/>
<circle cx="187.5" cy="150.2" r="2.0" fill="#003cc3"/>
<circle cx="193.1" cy="151.2" r="2.0" fill="#08f700"/>
<circle cx="195.9" cy="150.5" r="2.0" fill="#00fa05"/>
<circle cx="200.3" cy="147.9" r="2.0" fill="#00bd42"/>
<circle cx="199.0" cy="155.2" r="2.0" fill="#00d32c"/>
<circle cx="191.1" cy="157.9" r="2.0" fill="#05fa00"/>
<circle cx="202.1" cy="157.7" r="2.0" fill="#09f600"/>
<circle cx="206.0" cy="158.6" r="2.0" fill="#06f900"/>
<circle cx="206.0" cy="154.5" r="2.0" fill="#002fd0"/>
<circle cx="208.8" cy="154.8" r="2.0" fill="#002ed1"/>
<circle cx="211.0" cy="153.7" r="2.0" fill="#0032cd"/>
<circle cx="210.4" cy="158.0" r="2.0" fill="#0033cc"/>
<circle cx="211.6" cy="157.3" r="2.0" fill="#00b946"/>
<circle cx="214.5" cy="159.6" r="2.0" fill="#004eb1"/>
<circle cx="218.3" cy="159.1" r="2.0" fill="#0042bd"/>
<circle cx="218.9" cy="157.3" r="2.0" fill="#0040bf"/>
<circle cx="221.5" cy="156.8" r="2.0" fill="#0052ad"/>
<circle cx="216.8" cy="151.2" r="2.0" fill="#003fc0"/>
<circle cx="217.8" cy="153.4" r="2.0" fill="#0048b7"/>
<circle cx="219.5" cy="149.4" r="2.0" fill="#0040bf"/>
<circle cx="221.8" cy="148.7" r="2.0" fill="#0045ba"/>
<circle cx="212.4" cy="149.0" r="2.0" fill="#00f906"/>
<circle cx="203.2" cy="165.1" r="2.0" fill="#00c13e"/>
<circle cx="204.5" cy="167.3" r="2.0" fill="#00fa05"/>
<circle cx="206.7" cy="166.9" r="2.0" fill="#02fd00"/>
<circle cx="202.5" cy="169.4" r="2.0" fill="#00ca35"/>
<circle cx="196.4" cy="168.8" r="2.0" fill="#00b748"/>
<circle cx="195.2" cy="172.2" r="2.0" fill="#00cf30"/>
<circle cx="183.2" cy="167.4" r="2.0" fill="#00a857"/>
<circle cx="181.0" cy="167.2" r="2.0" fill="#009e61"/>
<circle cx="188.9" cy="170.2" r="2.0" fill="#008d72"/>
<circle cx="187.4" cy="172.0" r="2.0" fill="#007689"/>
<circle cx="183.1" cy="172.5" r="2.0" fill="#0040bf"/>
<circle cx="190.3" cy="175.1" r="2.0" fill="#00a15e"/>
<circle cx="191.0" cy="177.4" r="2.0" fill="#00ac53"/>
<circle cx="188.8" cy="178.8" r="2.0" fill="#009e61"/>
<circle cx="192.4" cy="178.3" r="2.0" fill="#00a857"/>
<circle cx="190.2" cy="180.1" r="2.0" fill="#009a65"/>
<circle cx="184.7" cy="180.5" r="2.0" fill="#009966"/>
<circle cx="195.3" cy="182.0" r="2.0" fill="#00ae51"/>
<circle cx="190.2" cy="182.9" r="2.0" fill="#00bc43"/>
<circle cx="191.0" cy="184.8" r="2.0" fill="#00f708"/>
<circle cx="191.6" cy="186.9" r="2.0" fill="#00f40b"/>
<circle cx="194.1" cy="188.2" r="2.0" fill="#00b847"/>
<circle cx="189.8" cy="190.4" r="2.0" fill="#00d32c"/>
<circle cx="187.0" cy="193.9" r="2.0" fill="#00c03f"/>
<circle cx="193.9" cy="195.2" r="2.0" fill="#00da25"/>
<circle cx="193.2" cy="198.0" r="2.0" fill="#00bd42"/>
<circle cx="187.1" cy="201.5" r="2.0" fill="#00ba45"/>
<circle cx="189.5" cy="205.4" r="2.0" fill="#00b847"/>
<circle cx="183.9" cy="213.9" r="2.0" fill="#00cb34"/>
<circle cx="162.4" cy="113.1" r="2.0" fill="#00718e"/>
<circle cx="164.9" cy="119.2" r="2.0" fill="#0033cc"/>
<circle cx="163.4" cy="121.3" r="2.0" fill="#004fb0"/>
<circle cx="169.1" cy="120.9" r="2.0" fill="#005da2"/>
<circle cx="157.8" cy="126.9" r="2.0" fill="#003cc3"/>
<circle cx="162.4" cy="126.3" r="2.0" fill="#008e71"/>
<circle cx="166.4" cy="125.5" r="2.0" fill="#00758a"/>
<circle cx="167.7" cy="127.0" r="2.0" fill="#00837c"/>
<circle cx="161.3" cy="131.7" r="2.0" fill="#0033cc"/>
<circle cx="160.6" cy="133.7" r="2.0" fill="#0040bf"/>
<circle cx="152.4" cy="133.4" r="2.0" fill="#0047b8"/>
<circle cx="155.6" cy="134.8" r="2.0" fill="#0045ba"/>
<circle cx="154.4" cy="137.0" r="2.0" fill="#0030cf"/>
<circle cx="150.2" cy="139.1" r="2.0" fill="#006996"/>
<circle cx="158.4" cy="139.2" r="2.0" fill="#0053ac"/>
<circle cx="157.8" cy="141.3" r="2.0" fill="#0051ae"/>
<circle cx="151.4" cy="142.7" r="2.0" fill="#004eb1"/>
<circle cx="153.5" cy="144.1" r="2.0" fill="#0050af"/>
<circle cx="151.9" cy="145.5" r="2.0" fill="#003ac5"/>
<circle cx="147.0" cy="145.2" r="2.0" fill="#0059a6"/>
<circle cx="155.5" cy="146.3" r="2.0" fill="#002cd3"/>
<circle cx="160.1" cy="145.1" r="2.0" fill="#007788"/>
<circle cx="165.6" cy="140.5" r="2.0" fill="#007a85"/>
<circle cx="167.8" cy="141.3" r="2.0" fill="#008080"/>
<circle cx="167.0" cy="145.6" r="2.0" fill="#00827d"/>
<circle cx="170.6" cy="146.4" r="2.0" fill="#0038c7"/>
<circle cx="174.0" cy="135.6" r="2.0" fill="#009966"/>
<circle cx="173.5" cy="139.1" r="2.0" fill="#009966"/>
<circle cx="169.0" cy="132.8" r="2.0" fill="#009b64"/>
<circle cx="171.9" cy="130.0" r="2.0" fill="#009a65"/>
<circle cx="174.1" cy="129.1" r="2.0" fill="#009c63"/>
<circle cx="176.9" cy="127.0" r="2.0" fill="#00738c"/>
<circle cx="178.5" cy="125.6" r="2.0" fill="#006f90"/>
<circle cx="175.5" cy="124.2" r="2.0" fill="#007887"/>
<circle cx="173.4" cy="118.3" r="2.0" fill="#005ea1"/>
<circle cx="175.6" cy="116.3" r="2.0" fill="#0052ad"/>
<circle cx="177.6" cy="115.5" r="2.0" fill="#00659a"/>
<circle cx="179.9" cy="114.9" r="2.0" fill="#00649b"/>
<circle cx="174.2" cy="122.1" r="2.0" fill="#007788"/>
<circle cx="178.4" cy="121.3" r="2.0" fill="#00857a"/>
<circle cx="179.8" cy="112.7" r="2.0" fill="#00f609"/>
<circle cx="176.2" cy="142.8" r="2.0" fill="#00d32c"/>
<circle cx="179.9" cy="144.2" r="2.0" fill="#0046b9"/>
<circle cx="179.9" cy="134.8" r="2.0" fill="#00718e"/>
<circle cx="171.4" cy="142.7" r="2.0" fill="#007f80"/>
<circle cx="174.8" cy="146.2" r="2.0" fill="#008c73"/>
<circle cx="178.3" cy="139.2" r="2.0" fill="#005fa0"/>
<circle cx="170.6" cy="137.7" r="2.0" fill="#00728d"/>
<circle cx="182.5" cy="114.1" r="2.0" fill="#008b74"/>
<circle cx="185.4" cy="113.3" r="2.0" fill="#00827d"/>
<circle cx="188.1" cy="115.5" r="2.0" fill="#008877"/>
<circle cx="191.7" cy="113.4" r="2.0" fill="#00738c"/>
<circle cx="194.5" cy="114.9" r="2.0" fill="#00817e"/>
<circle cx="196.6" cy="112.7" r="2.0" fill="#008b74"/>
<circle cx="199.5" cy="114.2" r="2.0" fill="#006f90"/>
<circle cx="203.2" cy="113.5" r="2.0" fill="#007788"/>
<circle cx="183.9" cy="117.6" r="2.0" fill="#00748b"/>
<circle cx="187.5" cy="118.4" r="2.0" fill="#008d72"/>
<circle cx="191.0" cy="117.6" r="2.0" fill="#006f90"/>
<circle cx="206.0" cy="117.4" r="2.0" fill="#0052ad"/>
<circle cx="211.7" cy="113.4" r="2.0" fill="#00cc33"/>
<circle cx="214.6" cy="114.1" r="2.0" fill="#00ca35"/>
<circle cx="211.0" cy="117.8" r="2.0" fill="#00d42b"/>
<circle cx="213.2" cy="119.1" r="2.0" fill="#00c03f"/>
<circle cx="216.1" cy="117.7" r="2.0" fill="#00bb44"/>
<circle cx="217.4" cy="117.6" r="2.0" fill="#002cd3"/>
<circle cx="219.6" cy="114.2" r="2.0" fill="#00c738"/>
<circle cx="222.4" cy="112.7" r="2.0" fill="#0043bc"/>
<circle cx="183.2" cy="122.8" r="2.0" fill="#0047b8"/>
<circle cx="186.0" cy="124.1" r="2.0" fill="#003ec1"/>
<circle cx="188.9" cy="123.5" r="2.0" fill="#002fd0"/>
<circle cx="189.6" cy="126.3" r="2.0" fill="#0030cf"/>
<circle cx="187.5" cy="126.9" r="2.0" fill="#0052ad"/>
<circle cx="193.9" cy="124.1" r="2.0" fill="#0041be"/>
<circle cx="198.9" cy="122.7" r="2.0" fill="#0037c8"/>
<circle cx="199.5" cy="126.2" r="2.0" fill="#0042bd"/>
<circle cx="198.9" cy="129.1" r="2.0" fill="#004bb4"/>
<circle cx="195.4" cy="130.5" r="2.0" fill="#004bb4"/>
<circle cx="194.5" cy="129.4" r="2.0" fill="#0041be"/>
<circle cx="204.7" cy="125.2" r="2.0" fill="#002fd0"/>
<circle cx="207.5" cy="126.2" r="2.0" fill="#00d926"/>
<circle cx="183.8" cy="128.4" r="2.0" fill="#008976"/>
<circle cx="182.5" cy="130.6" r="2.0" fill="#008976"/>
<circle cx="185.9" cy="129.8" r="2.0" fill="#008b74"/>
<circle cx="211.7" cy="124.9" r="2.0" fill="#003bc4"/>
<circle cx="213.1" cy="127.6" r="2.0" fill="#00d02f"/>
<circle cx="216.8" cy="122.6" r="2.0" fill="#00fe01"/>
<circle cx="219.5" cy="124.2" r="2.0" fill="#00fb04"/>
<circle cx="223.1" cy="122.8" r="2.0" fill="#07f800"/>
<circle cx="226.7" cy="122.4" r="2.0" fill="#01fe00"/>
<circle cx="229.5" cy="125.6" r="2.0" fill="#00d52a"/>
<circle cx="216.8" cy="128.5" r="2.0" fill="#00fe01"/>
<circle cx="215.4" cy="129.8" r="2.0" fill="#00f708"/>
<circle cx="218.8" cy="129.2" r="2.0" fill="#0053ac"/>
<circle cx="218.1" cy="130.5" r="2.0" fill="#0033cc"/>
<circle cx="223.9" cy="130.6" r="2.0" fill="#00b847"/>
<circle cx="232.2" cy="130.7" r="2.0" fill="#00bd42"/>
<circle cx="239.2" cy="130.2" r="2.0" fill="#00d42b"/>
<circle cx="212.4" cy="131.2" r="2.0" fill="#00b649"/>
<circle cx="206.8" cy="132.7" r="2.0" fill="#00bf40"/>
<circle cx="201.8" cy="134.1" r="2.0" fill="#00d12e"/>
<circle cx="197.5" cy="131.9" r="2.0" fill="#00d12e"/>
<circle cx="188.1" cy="134.1" r="2.0" fill="#00b748"/>
<circle cx="185.9" cy="135.5" r="2.0" fill="#00c13e"/>
<circle cx="184.5" cy="137.7" r="2.0" fill="#00c936"/>
<circle cx="188.8" cy="137.0" r="2.0" fill="#00cd32"/>
<circle cx="216.1" cy="133.5" r="2.0" fill="#01fe00"/>
<circle cx="213.9" cy="134.9" r="2.0" fill="#04fb00"/>
<circle cx="211.7" cy="137.5" r="2.0" fill="#08f700"/>
<circle cx="223.9" cy="134.8" r="2.0" fill="#00b847"/>
<circle cx="222.4" cy="137.8" r="2.0" fill="#00d728"/>
<circle cx="219.0" cy="138.9" r="2.0" fill="#002dd2"/>
<circle cx="216.8" cy="139.9" r="2.0" fill="#00c639"/>
<circle cx="223.0" cy="139.8" r="2.0" fill="#00fb04"/>
<circle cx="200.2" cy="142.7" r="2.0" fill="#00d42b"/>
<circle cx="206.1" cy="143.1" r="2.0" fill="#00cd32"/>
<circle cx="210.4" cy="143.6" r="2.0" fill="#0039c6"/>
<circle cx="212.3" cy="144.1" r="2.0" fill="#0039c6"/>
<circle cx="216.0" cy="146.3" r="2.0" fill="#00bf40"/>
<circle cx="200.2" cy="146.2" r="2.0" fill="#00b946"/>
<circle cx="223.1" cy="144.1" r="2.0" fill="#00d32c"/>
<circle cx="225.3" cy="144.5" r="2.0" fill="#002cd3"/>
<circle cx="221.7" cy="147.1" r="2.0" fill="#0035ca"/>
<circle cx="185.3" cy="142.8" r="2.0" fill="#00a758"/>
<circle cx="188.2" cy="144.2" r="2.0" fill="#00a857"/>
<circle cx="187.5" cy="146.2" r="2.0" fill="#00a15e"/>
<circle cx="181.0" cy="133.4" r="2.0" fill="#00718e"/>
<circle cx="172.1" cy="96.7" r="2.0" fill="#00bd42"/>
<circle cx="167.0" cy="101.0" r="2.0" fill="#00f807"/>
<circle cx="170.6" cy="102.4" r="2.0" fill="#00659a"/>
<circle cx="169.2" cy="103.9" r="2.0" fill="#0057a8"/>
<circle cx="173.5" cy="100.9" r="2.0" fill="#00c43b"/>
<circle cx="177.0" cy="96.0" r="2.0" fill="#00fe01"/>
<circle cx="179.8" cy="95.2" r="2.0" fill="#00c03f"/>
<circle cx="177.8" cy="99.5" r="2.0" fill="#006e91"/>
<circle cx="179.1" cy="101.7" r="2.0" fill="#0045ba"/>
<circle cx="177.1" cy="103.9" r="2.0" fill="#007c83"/>
<circle cx="179.9" cy="104.5" r="2.0" fill="#004bb4"/>
<circle cx="180.6" cy="86.0" r="2.0" fill="#008877"/>
<circle cx="179.9" cy="80.3" r="2.0" fill="#008877"/>
<circle cx="176.9" cy="106.6" r="2.0" fill="#00c837"/>
<circle cx="179.9" cy="109.6" r="2.0" fill="#008080"/>
<circle cx="175.6" cy="109.5" r="2.0" fill="#0057a8"/>
<circle cx="252.2" cy="57.8" r="2.0" fill="#00fe01"/>
<circle cx="255.7" cy="59.4" r="2.0" fill="#00fd02"/>
<circle cx="258.7" cy="61.4" r="2.0" fill="#01fe00"/>
<circle cx="262.8" cy="63.5" r="2.0" fill="#00f00f"/>
<circle cx="267.8" cy="65.7" r="2.0" fill="#00f30c"/>
<circle cx="265.1" cy="67.2" r="2.0" fill="#01fe00"/>
<circle cx="260.7" cy="65.0" r="2.0" fill="#00ee11"/>
<circle cx="257.1" cy="63.5" r="2.0" fill="#00fd02"/>
<circle cx="249.3" cy="58.6" r="2.0" fill="#00f00f"/>
<circle cx="253.6" cy="61.4" r="2.0" fill="#00f708"/>
<circle cx="246.4" cy="62.9" r="2.0" fill="#007788"/>
<circle cx="250.0" cy="66.4" r="2.0" fill="#0050af"/>
<circle cx="247.9" cy="70.0" r="2.0" fill="#00817e"/>
<circle cx="252.1" cy="71.4" r="2.0" fill="#003cc3"/>
<circle cx="246.5" cy="67.2" r="2.0" fill="#008877"/>
<circle cx="250.6" cy="74.3" r="2.0" fill="#00f00f"/>
<circle cx="247.2" cy="73.5" r="2.0" fill="#007689"/>
<circle cx="254.3" cy="68.5" r="2.0" fill="#00cf30"/>
<circle cx="263.7" cy="65.7" r="2.0" fill="#5ba400"/>
<circle cx="262.2" cy="74.2" r="2.0" fill="#778800"/>
<circle cx="275.0" cy="75.1" r="2.0" fill="#0af500"/>
<circle cx="265.7" cy="75.0" r="2.0" fill="#7e8100"/>
<circle cx="275.0" cy="77.5" r="2.0" fill="#00f807"/>
<circle cx="277.1" cy="77.7" r="2.0" fill="#00f10e"/>
<circle cx="266.4" cy="78.1" r="2.0" fill="#6c9300"/>
<circle cx="268.5" cy="78.8" r="2.0" fill="#728d00"/>
<circle cx="262.8" cy="76.7" r="2.0" fill="#5ba400"/>
<circle cx="249.3" cy="78.2" r="2.0" fill="#08f700"/>
<circle cx="252.1" cy="78.8" r="2.0" fill="#00fe01"/>
<circle cx="256.5" cy="78.2" r="2.0" fill="#00f20d"/>
<circle cx="255.0" cy="80.9" r="2.0" fill="#00ef10"/>
<circle cx="247.2" cy="81.7" r="2.0" fill="#007d82"/>
<circle cx="248.6" cy="85.3" r="2.0" fill="#00728d"/>
<circle cx="253.6" cy="85.4" r="2.0" fill="#778800"/>
<circle cx="255.8" cy="86.0" r="2.0" fill="#57a800"/>
<circle cx="258.5" cy="86.1" r="2.0" fill="#008c73"/>
<circle cx="263.5" cy="87.1" r="2.0" fill="#007c83"/>
<circle cx="267.2" cy="88.9" r="2.0" fill="#58a700"/>
<circle cx="269.7" cy="87.1" r="2.0" fill="#5ea100"/>
<circle cx="250.0" cy="88.8" r="2.0" fill="#00c53a"/>
<circle cx="251.5" cy="89.5" r="2.0" fill="#00c738"/>
<circle cx="253.5" cy="90.2" r="2.0" fill="#00807f"/>
<circle cx="245.6" cy="90.4" r="2.0" fill="#004ab5"/>
<circle cx="250.0" cy="100.0" r="2.0" fill="#00817e"/>
<circle cx="255.1" cy="102.1" r="2.0" fill="#00728d"/>
<circle cx="245.0" cy="103.2" r="2.0" fill="#689700"/>
<circle cx="246.4" cy="77.4" r="2.0" fill="#002cd3"/>
<circle cx="245.8" cy="84.6" r="2.0" fill="#00837c"/>
<circle cx="167.1" cy="101.1" r="2.0" fill="#00f30c"/>
<circle cx="172.1" cy="96.9" r="2.0" fill="#00ee11"/>
<circle cx="177.1" cy="96.1" r="2.0" fill="#00b847"/>
<circle cx="171.4" cy="102.6" r="2.0" fill="#008c73"/>
<circle cx="170.0" cy="104.0" r="2.0" fill="#007b84"/>
<circle cx="162.1" cy="113.3" r="2.0" fill="#003cc3"/>
<circle cx="165.0" cy="119.1" r="2.0" fill="#0046b9"/>
<circle cx="177.1" cy="86.1" r="2.0" fill="#008679"/>
<circle cx="182.1" cy="94.0" r="2.0" fill="#5ca300"/>
<circle cx="202.8" cy="102.6" r="2.0" fill="#33cc00"/>
<circle cx="208.5" cy="92.6" r="2.0" fill="#05fa00"/>
<circle cx="210.6" cy="94.0" r="2.0" fill="#00ef10"/>
<circle cx="239.5" cy="90.4" r="2.0" fill="#0048b7"/>
<circle cx="229.6" cy="99.5" r="2.0" fill="#00758a"/>
<circle cx="240.2" cy="97.3" r="2.0" fill="#003ac5"/>
<circle cx="238.8" cy="101.0" r="2.0" fill="#007b84"/>
<circle cx="227.3" cy="101.8" r="2.0" fill="#0028d7"/>
<circle cx="230.9" cy="104.6" r="2.0" fill="#003bc4"/>
<circle cx="243.8" cy="103.2" r="2.0" fill="#55aa00"/>
<circle cx="221.1" cy="110.4" r="2.0" fill="#004eb1"/>
<circle cx="216.7" cy="109.6" r="2.0" fill="#00c43b"/>
<circle cx="181.6" cy="70.8" r="2.0" fill="#0036c9"/>
<circle cx="187.5" cy="72.3" r="2.0" fill="#003ac5"/>
<circle cx="184.7" cy="73.7" r="2.0" fill="#00fc03"/>
<circle cx="182.3" cy="77.9" r="2.0" fill="#0045ba"/>
<circle cx="180.3" cy="80.1" r="2.0" fill="#00fb04"/>
<circle cx="193.8" cy="73.8" r="2.0" fill="#003cc3"/>
<circle cx="193.2" cy="78.8" r="2.0" fill="#0035ca"/>
<circle cx="223.2" cy="57.7" r="2.0" fill="#00817e"/>
<circle cx="218.9" cy="60.5" r="2.0" fill="#007d82"/>
<circle cx="183.6" cy="77.5" r="2.0" fill="#003cc3"/>
<circle cx="187.0" cy="77.3" r="2.0" fill="#0042bd"/>
<circle cx="192.6" cy="76.9" r="2.0" fill="#00758a"/>
<circle cx="201.4" cy="78.5" r="2.0" fill="#7a8500"/>
<circle cx="204.9" cy="77.3" r="2.0" fill="#007b84"/>
<circle cx="209.3" cy="79.3" r="2.0" fill="#6d9200"/>
<circle cx="212.0" cy="76.9" r="2.0" fill="#00ac53"/>
<circle cx="214.7" cy="76.9" r="2.0" fill="#01fe00"/>
<circle cx="217.7" cy="79.1" r="2.0" fill="#0047b8"/>
<circle cx="221.4" cy="77.9" r="2.0" fill="#00bc43"/>
<circle cx="225.6" cy="77.8" r="2.0" fill="#00a857"/>
<circle cx="230.1" cy="77.5" r="2.0" fill="#00cc33"/>
<circle cx="232.7" cy="77.8" r="2.0" fill="#008877"/>
<circle cx="237.4" cy="77.6" r="2.0" fill="#00ae51"/>
<circle cx="241.3" cy="77.4" r="2.0" fill="#008976"/>
<circle cx="245.1" cy="77.5" r="2.0" fill="#007986"/>
<circle cx="183.2" cy="82.1" r="2.0" fill="#006f90"/>
<circle cx="187.0" cy="81.8" r="2.0" fill="#006d92"/>
<circle cx="191.4" cy="81.2" r="2.0" fill="#00639c"/>
<circle cx="198.6" cy="81.2" r="2.0" fill="#007a85"/>
<circle cx="202.9" cy="81.5" r="2.0" fill="#006f90"/>
<circle cx="207.2" cy="82.1" r="2.0" fill="#00a15e"/>
<circle cx="210.3" cy="81.8" r="2.0" fill="#00bb44"/>
<circle cx="213.4" cy="81.5" r="2.0" fill="#00d728"/>
<circle cx="217.9" cy="80.7" r="2.0" fill="#00ac53"/>
<circle cx="221.3" cy="81.6" r="2.0" fill="#6b9400"/>
<circle cx="225.9" cy="82.0" r="2.0" fill="#00bb44"/>
<circle cx="229.1" cy="80.9" r="2.0" fill="#009966"/>
<circle cx="232.6" cy="81.4" r="2.0" fill="#00aa55"/>
<circle cx="236.8" cy="81.3" r="2.0" fill="#00a55a"/>
<circle cx="240.1" cy="80.6" r="2.0" fill="#00847b"/>
<circle cx="243.3" cy="81.9" r="2.0" fill="#00748b"/>
<circle cx="185.8" cy="84.3" r="2.0" fill="#007887"/>
<circle cx="189.9" cy="85.1" r="2.0" fill="#00847b"/>
<circle cx="193.5" cy="85.3" r="2.0" fill="#007c83"/>
<circle cx="196.2" cy="84.5" r="2.0" fill="#0055aa"/>
<circle cx="199.9" cy="85.4" r="2.0" fill="#006e91"/>
<circle cx="204.3" cy="85.6" r="2.0" fill="#002ed1"/>
<circle cx="206.9" cy="85.4" r="2.0" fill="#00cd32"/>
<circle cx="210.9" cy="84.2" r="2.0" fill="#00a45b"/>
<circle cx="214.9" cy="85.1" r="2.0" fill="#003cc3"/>
<circle cx="218.3" cy="87.6" r="2.0" fill="#004eb1"/>
<circle cx="222.6" cy="84.8" r="2.0" fill="#619e00"/>
<circle cx="225.5" cy="85.9" r="2.0" fill="#679800"/>
<circle cx="230.0" cy="84.9" r="2.0" fill="#009d62"/>
<circle cx="233.3" cy="84.4" r="2.0" fill="#009867"/>
<circle cx="236.2" cy="85.2" r="2.0" fill="#007b84"/>
<circle cx="240.3" cy="84.7" r="2.0" fill="#00758a"/>
<circle cx="244.1" cy="85.5" r="2.0" fill="#007e81"/>
<circle cx="182.1" cy="88.0" r="2.0" fill="#00ac53"/>
<circle cx="186.4" cy="89.4" r="2.0" fill="#007986"/>
<circle cx="189.7" cy="88.6" r="2.0" fill="#0048b7"/>
<circle cx="192.6" cy="88.7" r="2.0" fill="#00728d"/>
<circle cx="196.6" cy="88.1" r="2.0" fill="#007887"/>
<circle cx="200.7" cy="88.9" r="2.0" fill="#008a75"/>
<circle cx="204.2" cy="89.0" r="2.0" fill="#00817e"/>
<circle cx="207.6" cy="89.2" r="2.0" fill="#007689"/>
<circle cx="210.4" cy="88.8" r="2.0" fill="#00d32c"/>
<circle cx="214.6" cy="89.1" r="2.0" fill="#00ac53"/>
<circle cx="218.1" cy="89.0" r="2.0" fill="#00db24"/>
<circle cx="222.7" cy="89.1" r="2.0" fill="#00b946"/>
<circle cx="226.2" cy="89.7" r="2.0" fill="#00f609"/>
<circle cx="229.4" cy="88.8" r="2.0" fill="#00a758"/>
<circle cx="233.1" cy="89.1" r="2.0" fill="#00f807"/>
<circle cx="236.4" cy="88.6" r="2.0" fill="#009867"/>
<circle cx="182.7" cy="93.7" r="2.0" fill="#40bf00"/>
<circle cx="186.2" cy="92.9" r="2.0" fill="#00a55a"/>
<circle cx="189.3" cy="92.6" r="2.0" fill="#007e81"/>
<circle cx="193.7" cy="92.7" r="2.0" fill="#0039c6"/>
<circle cx="197.3" cy="93.4" r="2.0" fill="#006e91"/>
<circle cx="204.6" cy="92.9" r="2.0" fill="#00837c"/>
<circle cx="208.5" cy="91.9" r="2.0" fill="#00f609"/>
<circle cx="211.2" cy="92.8" r="2.0" fill="#00fb04"/>
<circle cx="215.0" cy="94.3" r="2.0" fill="#00f906"/>
<circle cx="218.3" cy="93.4" r="2.0" fill="#00f20d"/>
<circle cx="221.9" cy="92.4" r="2.0" fill="#00a35c"/>
<circle cx="226.3" cy="92.3" r="2.0" fill="#00f10e"/>
<circle cx="229.4" cy="92.8" r="2.0" fill="#00f00f"/>
<circle cx="231.9" cy="91.8" r="2.0" fill="#07f800"/>
<circle cx="182.3" cy="97.4" r="2.0" fill="#0038c7"/>
<circle cx="186.6" cy="96.4" r="2.0" fill="#007d82"/>
<circle cx="189.2" cy="97.5" r="2.0" fill="#0051ae"/>
<circle cx="193.6" cy="97.0" r="2.0" fill="#00728d"/>
<circle cx="197.0" cy="97.5" r="2.0" fill="#008679"/>
<circle cx="204.0" cy="97.2" r="2.0" fill="#007986"/>
<circle cx="207.9" cy="95.7" r="2.0" fill="#05fa00"/>
<circle cx="211.8" cy="96.6" r="2.0" fill="#00a55a"/>
<circle cx="215.1" cy="96.6" r="2.0" fill="#00847b"/>
<circle cx="218.8" cy="96.9" r="2.0" fill="#007986"/>
<circle cx="221.7" cy="96.1" r="2.0" fill="#00f30c"/>
<circle cx="182.1" cy="101.2" r="2.0" fill="#008080"/>
<circle cx="186.0" cy="100.4" r="2.0" fill="#0047b8"/>
<circle cx="190.1" cy="100.5" r="2.0" fill="#008a75"/>
<circle cx="193.2" cy="100.9" r="2.0" fill="#0042bd"/>
<circle cx="196.9" cy="100.4" r="2.0" fill="#00827d"/>
<circle cx="202.4" cy="101.6" r="2.0" fill="#37c800"/>
<circle cx="206.8" cy="102.1" r="2.0" fill="#0053ac"/>
<circle cx="210.2" cy="101.0" r="2.0" fill="#007887"/>
<circle cx="214.2" cy="100.5" r="2.0" fill="#007788"/>
<circle cx="217.7" cy="100.1" r="2.0" fill="#008679"/>
<circle cx="220.6" cy="100.1" r="2.0" fill="#008976"/>
<circle cx="182.2" cy="104.6" r="2.0" fill="#0030cf"/>
<circle cx="186.5" cy="104.9" r="2.0" fill="#007a85"/>
<circle cx="189.0" cy="104.3" r="2.0" fill="#0050af"/>
<circle cx="192.8" cy="104.1" r="2.0" fill="#007b84"/>
<circle cx="196.5" cy="104.1" r="2.0" fill="#0042bd"/>
<circle cx="200.0" cy="105.6" r="2.0" fill="#00c53a"/>
<circle cx="204.0" cy="105.2" r="2.0" fill="#008a75"/>
<circle cx="208.5" cy="105.5" r="2.0" fill="#006798"/>
<circle cx="211.5" cy="104.8" r="2.0" fill="#008d72"/>
<circle cx="217.0" cy="104.2" r="2.0" fill="#009b64"/>
<circle cx="219.9" cy="104.2" r="2.0" fill="#007689"/>
<circle cx="182.2" cy="108.8" r="2.0" fill="#00827d"/>
<circle cx="185.7" cy="108.9" r="2.0" fill="#0052ad"/>
<circle cx="189.1" cy="108.4" r="2.0" fill="#00827d"/>
<circle cx="193.0" cy="108.9" r="2.0" fill="#007b84"/>
<circle cx="196.2" cy="109.1" r="2.0" fill="#003ec1"/>
<circle cx="200.1" cy="109.2" r="2.0" fill="#008877"/>
<circle cx="203.3" cy="109.5" r="2.0" fill="#00827d"/>
<circle cx="207.9" cy="108.2" r="2.0" fill="#007e81"/>
<circle cx="212.1" cy="108.6" r="2.0" fill="#00cf30"/>
<circle cx="223.5" cy="57.1" r="2.0" fill="#00758a"/>
<circle cx="227.8" cy="57.2" r="2.0" fill="#00728d"/>
<circle cx="233.9" cy="60.4" r="2.0" fill="#00c43b"/>
<circle cx="238.3" cy="59.0" r="2.0" fill="#00a25d"/>
<circle cx="241.9" cy="59.8" r="2.0" fill="#00b946"/>
<circle cx="244.6" cy="58.9" r="2.0" fill="#00ac53"/>
<circle cx="220.1" cy="63.7" r="2.0" fill="#007e81"/>
<circle cx="223.4" cy="62.7" r="2.0" fill="#007788"/>
<circle cx="228.2" cy="62.9" r="2.0" fill="#00708f"/>
<circle cx="232.8" cy="63.2" r="2.0" fill="#00d22d"/>
<circle cx="236.7" cy="63.1" r="2.0" fill="#009a65"/>
<circle cx="241.0" cy="64.1" r="2.0" fill="#00847b"/>
<circle cx="244.5" cy="63.4" r="2.0" fill="#009b64"/>
<circle cx="212.0" cy="67.7" r="2.0" fill="#00728d"/>
<circle cx="215.6" cy="67.5" r="2.0" fill="#0044bb"/>
<circle cx="220.1" cy="66.6" r="2.0" fill="#002dd2"/>
<circle cx="223.9" cy="67.6" r="2.0" fill="#0043bc"/>
<circle cx="228.5" cy="66.8" r="2.0" fill="#007689"/>
<circle cx="231.5" cy="67.5" r="2.0" fill="#008976"/>
<circle cx="235.6" cy="66.5" r="2.0" fill="#009e61"/>
<circle cx="239.7" cy="67.1" r="2.0" fill="#00857a"/>
<circle cx="243.3" cy="67.3" r="2.0" fill="#007f80"/>
<circle cx="205.7" cy="70.9" r="2.0" fill="#00718e"/>
<circle cx="208.9" cy="71.1" r="2.0" fill="#008c73"/>
<circle cx="213.3" cy="70.4" r="2.0" fill="#00ad52"/>
<circle cx="216.6" cy="70.1" r="2.0" fill="#003fc0"/>
<circle cx="220.7" cy="70.2" r="2.0" fill="#0031ce"/>
<circle cx="225.0" cy="70.8" r="2.0" fill="#006e91"/>
<circle cx="229.0" cy="70.9" r="2.0" fill="#007689"/>
<circle cx="232.3" cy="71.6" r="2.0" fill="#00c639"/>
<circle cx="237.0" cy="70.7" r="2.0" fill="#00ae51"/>
<circle cx="240.3" cy="71.2" r="2.0" fill="#008976"/>
<circle cx="243.7" cy="70.3" r="2.0" fill="#00d22d"/>
<circle cx="197.8" cy="74.9" r="2.0" fill="#007a85"/>
<circle cx="202.2" cy="74.3" r="2.0" fill="#008c73"/>
<circle cx="205.7" cy="74.1" r="2.0" fill="#00718e"/>
<circle cx="210.1" cy="74.1" r="2.0" fill="#00718e"/>
<circle cx="213.9" cy="74.2" r="2.0" fill="#00c936"/>
<circle cx="217.0" cy="73.5" r="2.0" fill="#00758a"/>
<circle cx="221.4" cy="73.7" r="2.0" fill="#00738c"/>
<circle cx="224.8" cy="74.5" r="2.0" fill="#008a75"/>
<circle cx="229.8" cy="74.7" r="2.0" fill="#009b64"/>
<circle cx="233.0" cy="74.9" r="2.0" fill="#00827d"/>
<circle cx="237.0" cy="74.5" r="2.0" fill="#007d82"/>
<circle cx="241.0" cy="74.0" r="2.0" fill="#008080"/>
<circle cx="244.2" cy="74.1" r="2.0" fill="#008b74"/>
<circle cx="177.9" cy="99.0" r="2.0" fill="#00718e"/>
<circle cx="180.0" cy="97.5" r="2.0" fill="#00a25d"/>
<circle cx="176.5" cy="102.6" r="2.0" fill="#00728d"/>
<circle cx="179.3" cy="101.8" r="2.0" fill="#0057a8"/>
<circle cx="178.5" cy="105.4" r="2.0" fill="#007b84"/>
<circle cx="180.6" cy="104.7" r="2.0" fill="#6f9000"/>
<circle cx="179.9" cy="108.2" r="2.0" fill="#003fc0"/>
<circle cx="180.7" cy="111.8" r="2.0" fill="#007689"/>
<circle cx="179.2" cy="114.7" r="2.0" fill="#00fa05"/>
<circle cx="177.1" cy="116.8" r="2.0" fill="#007e81"/>
<circle cx="173.5" cy="118.2" r="2.0" fill="#006e91"/>
<circle cx="171.4" cy="116.1" r="2.0" fill="#0052ad"/>
<circle cx="180.8" cy="90.5" r="2.0" fill="#00847b"/>
<circle cx="180.1" cy="92.7" r="2.0" fill="#009b64"/>
<circle cx="247.6" cy="61.8" r="2.0" fill="#06f900"/>
<circle cx="251.2" cy="64.5" r="2.0" fill="#00fa05"/>
<circle cx="253.7" cy="67.1" r="2.0" fill="#05fa00"/>
<circle cx="249.4" cy="71.6" r="2.0" fill="#00f708"/>
<circle cx="252.1" cy="74.3" r="2.0" fill="#05fa00"/>
<circle cx="246.8" cy="68.1" r="2.0" fill="#00f906"/>
<circle cx="264.5" cy="64.5" r="2.0" fill="#00fa05"/>
<circle cx="269.0" cy="65.0" r="2.0" fill="#09f600"/>
<circle cx="267.3" cy="66.6" r="2.0" fill="#02fd00"/>
<circle cx="259.1" cy="63.6" r="2.0" fill="#00fb04"/>
<circle cx="261.9" cy="65.5" r="2.0" fill="#00fe01"/>
<circle cx="265.4" cy="68.0" r="2.0" fill="#08f700"/>
<circle cx="245.3" cy="63.6" r="2.0" fill="#008976"/>
<circle cx="249.4" cy="66.7" r="2.0" fill="#008d72"/>
<circle cx="245.8" cy="70.6" r="2.0" fill="#008a75"/>
<circle cx="252.8" cy="71.6" r="2.0" fill="#0051ae"/>
<circle cx="247.5" cy="75.2" r="2.0" fill="#004db2"/>
<circle cx="223.6" cy="57.8" r="2.0" fill="#00748b"/>
<circle cx="227.7" cy="57.4" r="2.0" fill="#00728d"/>
<circle cx="250.0" cy="59.1" r="2.0" fill="#08f700"/>
<circle cx="253.5" cy="60.1" r="2.0" fill="#03fc00"/>
<circle cx="255.2" cy="61.9" r="2.0" fill="#00f30c"/>
<circle cx="251.7" cy="61.9" r="2.0" fill="#00fa05"/>
<circle cx="247.3" cy="61.0" r="2.0" fill="#00f20d"/>
<circle cx="242.8" cy="60.9" r="2.0" fill="#07f800"/>
<circle cx="240.2" cy="61.8" r="2.0" fill="#00f708"/>
<circle cx="244.5" cy="63.3" r="2.0" fill="#01fe00"/>
<circle cx="233.8" cy="61.9" r="2.0" fill="#00c23d"/>
<circle cx="237.4" cy="63.3" r="2.0" fill="#00d42b"/>
<circle cx="226.4" cy="60.1" r="2.0" fill="#008e71"/>
<circle cx="231.5" cy="58.9" r="2.0" fill="#00817e"/>
<circle cx="235.0" cy="60.5" r="2.0" fill="#00ae51"/>
<circle cx="239.4" cy="59.8" r="2.0" fill="#00d12e"/>
<circle cx="244.6" cy="58.4" r="2.0" fill="#009867"/>
<circle cx="247.6" cy="60.4" r="2.0" fill="#00ae51"/>
<circle cx="251.5" cy="58.5" r="2.0" fill="#01fe00"/>
<circle cx="255.0" cy="59.0" r="2.0" fill="#04fb00"/>
<circle cx="226.2" cy="64.0" r="2.0" fill="#00807f"/>
<circle cx="229.9" cy="63.2" r="2.0" fill="#008a75"/>
<circle cx="234.2" cy="64.0" r="2.0" fill="#008a75"/>
<circle cx="238.6" cy="63.1" r="2.0" fill="#00a35c"/>
<circle cx="243.2" cy="64.3" r="2.0" fill="#00c13e"/>
<circle cx="247.4" cy="63.5" r="2.0" fill="#00a05f"/>
<circle cx="250.8" cy="62.5" r="2.0" fill="#00d02f"/>
<circle cx="254.3" cy="62.3" r="2.0" fill="#07f800"/>
<circle cx="257.7" cy="63.4" r="2.0" fill="#00f609"/>
<circle cx="260.2" cy="65.4" r="2.0" fill="#00f40b"/>
<circle cx="226.5" cy="67.6" r="2.0" fill="#007a85"/>
<circle cx="230.5" cy="67.6" r="2.0" fill="#007986"/>
<circle cx="234.4" cy="68.3" r="2.0" fill="#00ac53"/>
<circle cx="239.6" cy="67.4" r="2.0" fill="#009d62"/>
<circle cx="242.7" cy="68.6" r="2.0" fill="#00a45b"/>
<circle cx="246.0" cy="67.4" r="2.0" fill="#009966"/>
<circle cx="250.3" cy="66.6" r="2.0" fill="#0042bd"/>
<circle cx="253.1" cy="67.6" r="2.0" fill="#00a659"/>
<circle cx="257.3" cy="66.9" r="2.0" fill="#00ef10"/>
<circle cx="225.8" cy="72.2" r="2.0" fill="#008877"/>
<circle cx="231.0" cy="71.7" r="2.0" fill="#00bc43"/>
<circle cx="234.9" cy="71.1" r="2.0" fill="#00c13e"/>
<circle cx="238.2" cy="71.6" r="2.0" fill="#009a65"/>
<circle cx="241.6" cy="71.3" r="2.0" fill="#009e61"/>
<circle cx="245.1" cy="73.0" r="2.0" fill="#004bb4"/>
<circle cx="249.1" cy="70.9" r="2.0" fill="#00d12e"/>
<circle cx="252.1" cy="72.0" r="2.0" fill="#00fd02"/>
<circle cx="233.4" cy="76.4" r="2.0" fill="#00fd02"/>
<circle cx="237.0" cy="75.6" r="2.0" fill="#00f609"/>
<circle cx="238.7" cy="74.7" r="2.0" fill="#002cd3"/>
<circle cx="240.8" cy="78.0" r="2.0" fill="#31ce00"/>
<circle cx="245.3" cy="76.4" r="2.0" fill="#00ee11"/>
<circle cx="248.6" cy="77.2" r="2.0" fill="#00f00f"/>
<circle cx="251.7" cy="76.2" r="2.0" fill="#3fc000"/>
<circle cx="254.7" cy="77.6" r="2.0" fill="#00ee11"/>
<circle cx="258.1" cy="77.7" r="2.0" fill="#00f00f"/>
<circle cx="262.3" cy="74.0" r="2.0" fill="#738c00"/>
<circle cx="265.5" cy="77.6" r="2.0" fill="#639c00"/>
<circle cx="249.8" cy="80.4" r="2.0" fill="#00fa05"/>
<circle cx="252.1" cy="81.4" r="2.0" fill="#00a55a"/>
<circle cx="248.5" cy="84.8" r="2.0" fill="#007b84"/>
<circle cx="253.4" cy="85.8" r="2.0" fill="#609f00"/>
<circle cx="259.5" cy="85.6" r="2.0" fill="#008b74"/>
<circle cx="263.3" cy="86.3" r="2.0" fill="#00758a"/>
<circle cx="268.5" cy="87.3" r="2.0" fill="#679800"/>
<circle cx="249.9" cy="90.0" r="2.0" fill="#006d92"/>
<circle cx="123.5" cy="187.6" r="2.0" fill="#03fc00"/>
<circle cx="126.8" cy="184.4" r="2.0" fill="#0038c7"/>
<circle cx="127.9" cy="186.5" r="2.0" fill="#004db2"/>
<circle cx="126.4" cy="188.9" r="2.0" fill="#0041be"/>
<circle cx="125.9" cy="190.1" r="2.0" fill="#0028d7"/>
<circle cx="251.8" cy="77.9" r="2.0" fill="#2ed100"/>
<circle cx="252.6" cy="84.3" r="2.0" fill="#7c8300"/>
<circle cx="249.4" cy="81.0" r="2.0" fill="#28d700"/>
<circle cx="247.0" cy="86.4" r="2.0" fill="#00817e"/>
<circle cx="244.0" cy="90.5" r="2.0" fill="#00837c"/>
<circle cx="239.5" cy="90.9" r="2.0" fill="#00847b"/>
<line x1="117.1" y1="83.8" x2="276.7" y2="32.9" stroke="#0072bd" stroke-width="1.3"/>
<path d="M117.10,129.40 C119.27,127.62 126.68,121.62 130.10,118.70 C133.52,115.78 135.52,113.68 137.60,111.90 C139.68,110.12 140.22,109.92 142.60,108.00 C144.98,106.08 147.75,103.33 151.90,100.40 C156.05,97.47 161.57,93.93 167.50,90.40 C173.43,86.87 183.27,81.70 187.50,79.20 C191.73,76.70 190.50,77.00 192.90,75.40 C195.30,73.80 198.92,71.30 201.90,69.60 C204.88,67.90 207.83,66.50 210.80,65.20 C213.77,63.90 217.42,62.70 219.70,61.80 C221.98,60.90 222.43,60.58 224.50,59.80 C226.57,59.02 229.95,57.66 232.10,57.10 C234.25,56.54 235.62,56.42 237.40,56.45 C239.18,56.48 241.02,56.77 242.80,57.30 C244.58,57.82 245.90,58.40 248.10,59.60 C250.30,60.80 253.70,62.77 256.00,64.50 C258.30,66.23 258.83,67.18 261.90,70.00 C264.97,72.82 271.93,79.17 274.40,81.40 C276.87,83.63 276.32,83.07 276.70,83.40" fill="none" stroke="#d95319" stroke-width="1.3"/>
</g>
<rect x="117.0" y="16.4" width="183.8" height="197.85" fill="none" stroke="#262626" stroke-width="0.85"/>
<line x1="117.0" y1="210.25" x2="119.6" y2="210.25" stroke="#262626" stroke-width="0.8"/>
<text x="114.0" y="214.45" text-anchor="end">550</text>
<line x1="117.0" y1="188.71" x2="119.6" y2="188.71" stroke="#262626" stroke-width="0.8"/>
<text x="114.0" y="192.87" text-anchor="end">600</text>
<line x1="117.0" y1="167.17" x2="119.6" y2="167.17" stroke="#262626" stroke-width="0.8"/>
<text x="114.0" y="171.28" text-anchor="end">650</text>
<line x1="117.0" y1="145.63" x2="119.6" y2="145.63" stroke="#262626" stroke-width="0.8"/>
<text x="114.0" y="149.70" text-anchor="end">700</text>
<line x1="117.0" y1="124.09" x2="119.6" y2="124.09" stroke="#262626" stroke-width="0.8"/>
<text x="114.0" y="128.12" text-anchor="end">750</text>
<line x1="117.0" y1="102.56" x2="119.6" y2="102.56" stroke="#262626" stroke-width="0.8"/>
<text x="114.0" y="106.53" text-anchor="end">800</text>
<line x1="117.0" y1="81.02" x2="119.6" y2="81.02" stroke="#262626" stroke-width="0.8"/>
<text x="114.0" y="84.95" text-anchor="end">850</text>
<line x1="117.0" y1="59.48" x2="119.6" y2="59.48" stroke="#262626" stroke-width="0.8"/>
<text x="114.0" y="63.37" text-anchor="end">900</text>
<line x1="117.0" y1="37.94" x2="119.6" y2="37.94" stroke="#262626" stroke-width="0.8"/>
<text x="114.0" y="41.78" text-anchor="end">950</text>
<line x1="117.0" y1="16.40" x2="119.6" y2="16.40" stroke="#262626" stroke-width="0.8"/>
<text x="114.0" y="20.20" text-anchor="end">1000</text>
<line x1="141.05" y1="214.25" x2="141.05" y2="211.65" stroke="#262626" stroke-width="0.8"/>
<text x="136.25" y="229.45" text-anchor="middle">10</text><text x="142.75" y="224.65" font-size="8.7">15</text>
<line x1="220.92" y1="214.25" x2="220.92" y2="211.65" stroke="#262626" stroke-width="0.8"/>
<text x="216.12" y="229.45" text-anchor="middle">10</text><text x="222.62" y="224.65" font-size="8.7">16</text>
<line x1="300.80" y1="214.25" x2="300.80" y2="211.65" stroke="#262626" stroke-width="0.8"/>
<text x="296.00" y="229.45" text-anchor="middle">10</text><text x="302.50" y="224.65" font-size="8.7">17</text>
<line x1="117.00" y1="214.25" x2="117.00" y2="212.65" stroke="#262626" stroke-width="0.8"/>
<line x1="123.32" y1="214.25" x2="123.32" y2="212.65" stroke="#262626" stroke-width="0.8"/>
<line x1="128.67" y1="214.25" x2="128.67" y2="212.65" stroke="#262626" stroke-width="0.8"/>
<line x1="133.30" y1="214.25" x2="133.30" y2="212.65" stroke="#262626" stroke-width="0.8"/>
<line x1="137.39" y1="214.25" x2="137.39" y2="212.65" stroke="#262626" stroke-width="0.8"/>
<line x1="165.09" y1="214.25" x2="165.09" y2="212.65" stroke="#262626" stroke-width="0.8"/>
<line x1="179.16" y1="214.25" x2="179.16" y2="212.65" stroke="#262626" stroke-width="0.8"/>
<line x1="189.14" y1="214.25" x2="189.14" y2="212.65" stroke="#262626" stroke-width="0.8"/>
<line x1="196.88" y1="214.25" x2="196.88" y2="212.65" stroke="#262626" stroke-width="0.8"/>
<line x1="203.20" y1="214.25" x2="203.20" y2="212.65" stroke="#262626" stroke-width="0.8"/>
<line x1="208.55" y1="214.25" x2="208.55" y2="212.65" stroke="#262626" stroke-width="0.8"/>
<line x1="213.18" y1="214.25" x2="213.18" y2="212.65" stroke="#262626" stroke-width="0.8"/>
<line x1="217.27" y1="214.25" x2="217.27" y2="212.65" stroke="#262626" stroke-width="0.8"/>
<line x1="244.97" y1="214.25" x2="244.97" y2="212.65" stroke="#262626" stroke-width="0.8"/>
<line x1="259.03" y1="214.25" x2="259.03" y2="212.65" stroke="#262626" stroke-width="0.8"/>
<line x1="269.01" y1="214.25" x2="269.01" y2="212.65" stroke="#262626" stroke-width="0.8"/>
<line x1="276.75" y1="214.25" x2="276.75" y2="212.65" stroke="#262626" stroke-width="0.8"/>
<line x1="283.08" y1="214.25" x2="283.08" y2="212.65" stroke="#262626" stroke-width="0.8"/>
<line x1="288.43" y1="214.25" x2="288.43" y2="212.65" stroke="#262626" stroke-width="0.8"/>
<line x1="293.06" y1="214.25" x2="293.06" y2="212.65" stroke="#262626" stroke-width="0.8"/>
<line x1="297.15" y1="214.25" x2="297.15" y2="212.65" stroke="#262626" stroke-width="0.8"/>
<text x="209.5" y="245.1" text-anchor="middle" font-size="11.3"><tspan font-style="italic">p</tspan><tspan font-style="italic" font-size="8.8" dy="5">avg</tspan><tspan dy="-5"> (cm</tspan><tspan font-size="8.5" dy="-5">-3</tspan><tspan dy="5">)</tspan></text>
<text transform="translate(80.6,114.5) rotate(-90)" text-anchor="middle" font-size="11.1"><tspan font-style="italic">V</tspan><tspan font-style="italic" font-size="8.8" dy="5">oc</tspan><tspan dy="-5"> (mV)</tspan></text>
<text transform="translate(167.3,62.0) rotate(-17.7)" text-anchor="middle" font-size="11" fill="#0072bd" stroke="#0072bd" stroke-width="0.2">No Flucts</text>
<text transform="translate(125.5,110.3) rotate(-34.2)" font-size="10.6" fill="#d95319" stroke="#d95319" stroke-width="0.25">2.5x10<tspan font-size="7" dy="-3.4">17</tspan><tspan dy="3.4"> N</tspan><tspan font-size="7" dy="2.5">t</tspan></text>
<text transform="translate(272,62.9) rotate(29.5)" text-anchor="middle" font-size="11" fill="#d95319" stroke="#d95319" stroke-width="0.25">More As</text>
<rect x="322.1" y="16.4" width="18.19999999999999" height="197.85" fill="url(#cb)" stroke="#262626" stroke-width="0.6"/>
<line x1="340.3" y1="214.25" x2="338.3" y2="214.25" stroke="#262626" stroke-width="0.8"/>
<text x="345.1" y="217.40" font-size="9.6">0</text>
<line x1="340.3" y1="185.99" x2="338.3" y2="185.99" stroke="#262626" stroke-width="0.8"/>
<text x="345.1" y="189.01" font-size="9.6">2</text>
<line x1="340.3" y1="157.72" x2="338.3" y2="157.72" stroke="#262626" stroke-width="0.8"/>
<text x="345.1" y="160.61" font-size="9.6">4</text>
<line x1="340.3" y1="129.46" x2="338.3" y2="129.46" stroke="#262626" stroke-width="0.8"/>
<text x="345.1" y="132.22" font-size="9.6">6</text>
<line x1="340.3" y1="101.19" x2="338.3" y2="101.19" stroke="#262626" stroke-width="0.8"/>
<text x="345.1" y="103.82" font-size="9.6">8</text>
<line x1="340.3" y1="72.93" x2="338.3" y2="72.93" stroke="#262626" stroke-width="0.8"/>
<text x="345.70000000000005" y="75.43" font-size="9.6">10</text>
<line x1="340.3" y1="44.66" x2="338.3" y2="44.66" stroke="#262626" stroke-width="0.8"/>
<text x="345.70000000000005" y="47.03" font-size="9.6">12</text>
<line x1="340.3" y1="16.40" x2="338.3" y2="16.40" stroke="#262626" stroke-width="0.8"/>
<text x="345.70000000000005" y="18.64" font-size="9.6">14</text>
<text x="341.0" y="10.9" font-size="11.5">×</text><text x="348.7" y="9.8" font-size="9.8">10</text><text x="359.8" y="5.6" font-size="8">17</text>
<text transform="translate(363.0,115.5) rotate(90)" text-anchor="middle" font-size="10.7">As conc. (cm<tspan font-size="8.5" dy="-5.8">-3</tspan><tspan dy="5.8">)</tspan></text>
</svg>
</body></html>
